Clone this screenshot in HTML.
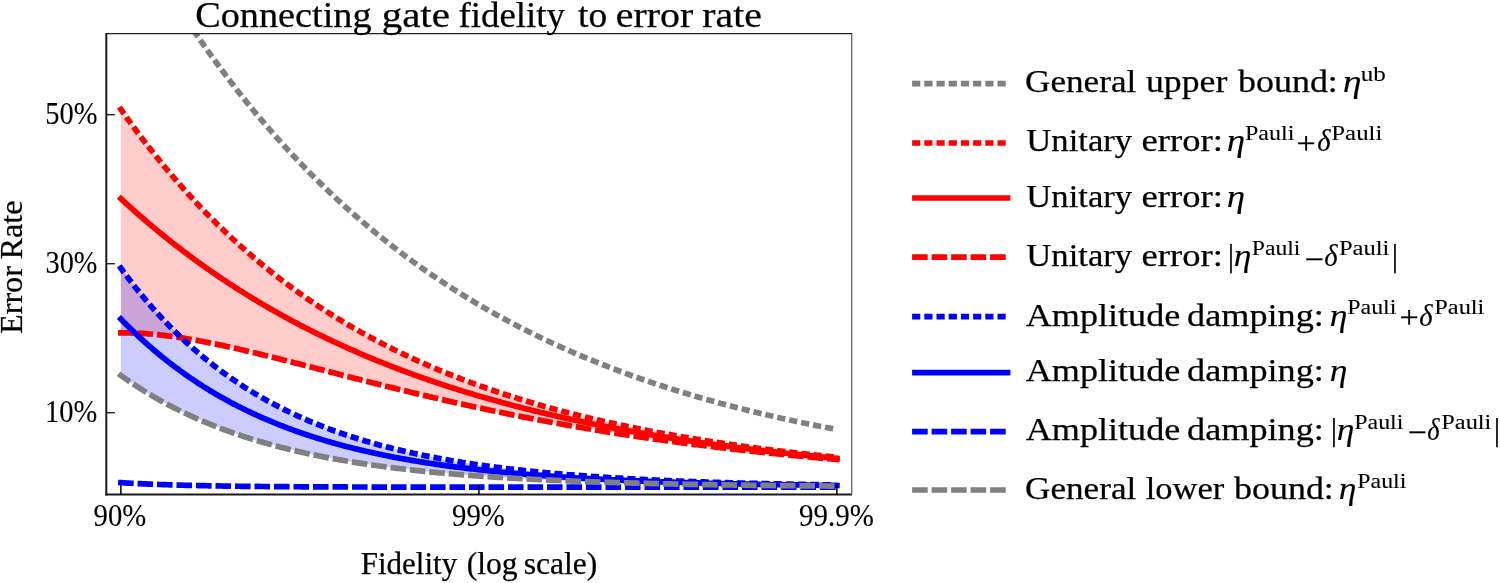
<!DOCTYPE html>
<html><head><meta charset="utf-8"><title>Connecting gate fidelity to error rate</title>
<style>html,body{margin:0;padding:0;background:#fff}svg{display:block}text{font-family:"Liberation Serif",serif;fill:#000;stroke:#000;stroke-width:0.25px}.l{stroke-width:0.1px}</style></head><body>
<svg width="1500" height="583" viewBox="0 0 1500 583">
<rect width="1500" height="583" fill="#fff"/>
<defs><clipPath id="ax"><rect x="106.3" y="33.5" width="745.7" height="460.9"/></clipPath></defs>
<g clip-path="url(#ax)" fill="none" stroke-linejoin="round">
<path d="M120.90,109.43 L122.69,111.98 L124.49,114.51 L126.28,117.02 L128.08,119.51 L129.87,121.99 L131.67,124.45 L133.46,126.89 L135.26,129.32 L137.05,131.73 L138.84,134.13 L140.64,136.50 L142.43,138.87 L144.23,141.21 L146.02,143.54 L147.82,145.86 L149.61,148.16 L151.41,150.44 L153.20,152.70 L155.00,154.96 L156.79,157.19 L158.58,159.41 L160.38,161.62 L162.17,163.81 L163.97,165.98 L165.76,168.14 L167.56,170.29 L169.35,172.42 L171.15,174.53 L172.94,176.63 L174.73,178.72 L176.53,180.79 L178.32,182.85 L180.12,184.89 L181.91,186.92 L183.71,188.94 L185.50,190.94 L187.30,192.93 L189.09,194.90 L190.88,196.86 L192.68,198.81 L194.47,200.74 L196.27,202.66 L198.06,204.56 L199.86,206.46 L201.65,208.34 L203.45,210.20 L205.24,212.06 L207.04,213.90 L208.83,215.72 L210.62,217.54 L212.42,219.34 L214.21,221.13 L216.01,222.91 L217.80,224.67 L219.60,226.42 L221.39,228.16 L223.19,229.89 L224.98,231.61 L226.77,233.31 L228.57,235.00 L230.36,236.69 L232.16,238.35 L233.95,240.01 L235.75,241.66 L237.54,243.29 L239.34,244.91 L241.13,246.52 L242.93,248.12 L244.72,249.71 L246.51,251.29 L248.31,252.86 L250.10,254.41 L251.90,255.96 L253.69,257.49 L255.49,259.01 L257.28,260.52 L259.08,262.03 L260.87,263.52 L262.66,265.00 L264.46,266.47 L266.25,267.93 L268.05,269.38 L269.84,270.82 L271.64,272.25 L273.43,273.67 L275.23,275.08 L277.02,276.48 L278.81,277.87 L280.61,279.25 L282.40,280.62 L284.20,281.98 L285.99,283.34 L287.79,284.68 L289.58,286.01 L291.38,287.34 L293.17,288.65 L294.97,289.96 L296.76,291.25 L298.55,292.54 L300.35,293.82 L302.14,295.09 L303.94,296.35 L305.73,297.60 L307.53,298.84 L309.32,300.08 L311.12,301.31 L312.91,302.52 L314.70,303.73 L316.50,304.93 L318.29,306.12 L320.09,307.31 L321.88,308.48 L323.68,309.65 L325.47,310.81 L327.27,311.96 L329.06,313.11 L330.85,314.24 L332.65,315.37 L334.44,316.49 L336.24,317.60 L338.03,318.71 L339.83,319.80 L341.62,320.89 L343.42,321.97 L345.21,323.05 L347.01,324.11 L348.80,325.17 L350.59,326.23 L352.39,327.27 L354.18,328.31 L355.98,329.34 L357.77,330.36 L359.57,331.38 L361.36,332.39 L363.16,333.39 L364.95,334.39 L366.74,335.37 L368.54,336.36 L370.33,337.33 L372.13,338.30 L373.92,339.26 L375.72,340.22 L377.51,341.16 L379.31,342.11 L381.10,343.04 L382.89,343.97 L384.69,344.89 L386.48,345.81 L388.28,346.72 L390.07,347.62 L391.87,348.52 L393.66,349.41 L395.46,350.30 L397.25,351.18 L399.05,352.05 L400.84,352.92 L402.63,353.78 L404.43,354.64 L406.22,355.49 L408.02,356.33 L409.81,357.17 L411.61,358.00 L413.40,358.83 L415.20,359.65 L416.99,360.47 L418.78,361.28 L420.58,362.08 L422.37,362.88 L424.17,363.67 L425.96,364.46 L427.76,365.24 L429.55,366.02 L431.35,366.79 L433.14,367.56 L434.94,368.32 L436.73,369.08 L438.52,369.83 L440.32,370.58 L442.11,371.32 L443.91,372.06 L445.70,372.79 L447.50,373.51 L449.29,374.24 L451.09,374.95 L452.88,375.67 L454.67,376.37 L456.47,377.08 L458.26,377.77 L460.06,378.47 L461.85,379.15 L463.65,379.84 L465.44,380.52 L467.24,381.19 L469.03,381.86 L470.82,382.53 L472.62,383.19 L474.41,383.85 L476.21,384.50 L478.00,385.15 L479.80,385.79 L481.59,386.43 L483.39,387.06 L485.18,387.69 L486.98,388.32 L488.77,388.94 L490.56,389.56 L492.36,390.18 L494.15,390.79 L495.95,391.39 L497.74,391.99 L499.54,392.59 L501.33,393.19 L503.13,393.78 L504.92,394.36 L506.71,394.94 L508.51,395.52 L510.30,396.10 L512.10,396.67 L513.89,397.23 L515.69,397.80 L517.48,398.36 L519.28,398.91 L521.07,399.46 L522.86,400.01 L524.66,400.56 L526.45,401.10 L528.25,401.64 L530.04,402.17 L531.84,402.70 L533.63,403.23 L535.43,403.75 L537.22,404.27 L539.02,404.79 L540.81,405.30 L542.60,405.81 L544.40,406.32 L546.19,406.82 L547.99,407.32 L549.78,407.82 L551.58,408.31 L553.37,408.80 L555.17,409.29 L556.96,409.77 L558.75,410.25 L560.55,410.73 L562.34,411.20 L564.14,411.68 L565.93,412.14 L567.73,412.61 L569.52,413.07 L571.32,413.53 L573.11,413.99 L574.91,414.44 L576.70,414.89 L578.49,415.34 L580.29,415.78 L582.08,416.22 L583.88,416.66 L585.67,417.10 L587.47,417.53 L589.26,417.96 L591.06,418.39 L592.85,418.81 L594.64,419.23 L596.44,419.65 L598.23,420.07 L600.03,420.48 L601.82,420.89 L603.62,421.30 L605.41,421.70 L607.21,422.11 L609.00,422.51 L610.79,422.91 L612.59,423.30 L614.38,423.69 L616.18,424.08 L617.97,424.47 L619.77,424.86 L621.56,425.24 L623.36,425.62 L625.15,426.00 L626.95,426.37 L628.74,426.74 L630.53,427.11 L632.33,427.48 L634.12,427.85 L635.92,428.21 L637.71,428.57 L639.51,428.93 L641.30,429.29 L643.10,429.64 L644.89,429.99 L646.68,430.34 L648.48,430.69 L650.27,431.04 L652.07,431.38 L653.86,431.72 L655.66,432.06 L657.45,432.39 L659.25,432.73 L661.04,433.06 L662.83,433.39 L664.63,433.72 L666.42,434.04 L668.22,434.37 L670.01,434.69 L671.81,435.01 L673.60,435.33 L675.40,435.64 L677.19,435.96 L678.99,436.27 L680.78,436.58 L682.57,436.88 L684.37,437.19 L686.16,437.49 L687.96,437.80 L689.75,438.10 L691.55,438.39 L693.34,438.69 L695.14,438.98 L696.93,439.28 L698.72,439.57 L700.52,439.86 L702.31,440.14 L704.11,440.43 L705.90,440.71 L707.70,440.99 L709.49,441.27 L711.29,441.55 L713.08,441.83 L714.87,442.10 L716.67,442.37 L718.46,442.64 L720.26,442.91 L722.05,443.18 L723.85,443.45 L725.64,443.71 L727.44,443.97 L729.23,444.24 L731.03,444.49 L732.82,444.75 L734.61,445.01 L736.41,445.26 L738.20,445.52 L740.00,445.77 L741.79,446.02 L743.59,446.26 L745.38,446.51 L747.18,446.76 L748.97,447.00 L750.76,447.24 L752.56,447.48 L754.35,447.72 L756.15,447.96 L757.94,448.20 L759.74,448.43 L761.53,448.66 L763.33,448.89 L765.12,449.12 L766.92,449.35 L768.71,449.58 L770.50,449.81 L772.30,450.03 L774.09,450.25 L775.89,450.48 L777.68,450.70 L779.48,450.92 L781.27,451.13 L783.07,451.35 L784.86,451.56 L786.65,451.78 L788.45,451.99 L790.24,452.20 L792.04,452.41 L793.83,452.62 L795.63,452.83 L797.42,453.03 L799.22,453.24 L801.01,453.44 L802.80,453.64 L804.60,453.84 L806.39,454.04 L808.19,454.24 L809.98,454.44 L811.78,454.63 L813.57,454.83 L815.37,455.02 L817.16,455.21 L818.96,455.40 L820.75,455.59 L822.54,455.78 L824.34,455.97 L826.13,456.16 L827.93,456.34 L829.72,456.53 L831.52,456.71 L833.31,456.89 L835.11,457.07 L836.90,457.25 L836.90,459.49 L835.11,459.33 L833.31,459.18 L831.52,459.02 L829.72,458.87 L827.93,458.71 L826.13,458.55 L824.34,458.39 L822.54,458.23 L820.75,458.07 L818.96,457.91 L817.16,457.75 L815.37,457.59 L813.57,457.42 L811.78,457.26 L809.98,457.09 L808.19,456.93 L806.39,456.76 L804.60,456.59 L802.80,456.42 L801.01,456.25 L799.22,456.08 L797.42,455.91 L795.63,455.74 L793.83,455.57 L792.04,455.39 L790.24,455.22 L788.45,455.04 L786.65,454.87 L784.86,454.69 L783.07,454.51 L781.27,454.33 L779.48,454.15 L777.68,453.97 L775.89,453.78 L774.09,453.60 L772.30,453.42 L770.50,453.23 L768.71,453.05 L766.92,452.86 L765.12,452.67 L763.33,452.48 L761.53,452.29 L759.74,452.10 L757.94,451.91 L756.15,451.72 L754.35,451.52 L752.56,451.33 L750.76,451.13 L748.97,450.93 L747.18,450.74 L745.38,450.54 L743.59,450.34 L741.79,450.14 L740.00,449.94 L738.20,449.73 L736.41,449.53 L734.61,449.32 L732.82,449.12 L731.03,448.91 L729.23,448.70 L727.44,448.49 L725.64,448.28 L723.85,448.07 L722.05,447.86 L720.26,447.65 L718.46,447.43 L716.67,447.22 L714.87,447.00 L713.08,446.78 L711.29,446.56 L709.49,446.34 L707.70,446.12 L705.90,445.90 L704.11,445.68 L702.31,445.45 L700.52,445.23 L698.72,445.00 L696.93,444.78 L695.14,444.55 L693.34,444.32 L691.55,444.09 L689.75,443.85 L687.96,443.62 L686.16,443.39 L684.37,443.15 L682.57,442.92 L680.78,442.68 L678.99,442.44 L677.19,442.20 L675.40,441.96 L673.60,441.72 L671.81,441.47 L670.01,441.23 L668.22,440.98 L666.42,440.73 L664.63,440.49 L662.83,440.24 L661.04,439.99 L659.25,439.74 L657.45,439.48 L655.66,439.23 L653.86,438.97 L652.07,438.72 L650.27,438.46 L648.48,438.20 L646.68,437.94 L644.89,437.68 L643.10,437.42 L641.30,437.15 L639.51,436.89 L637.71,436.62 L635.92,436.35 L634.12,436.08 L632.33,435.81 L630.53,435.54 L628.74,435.27 L626.95,435.00 L625.15,434.72 L623.36,434.44 L621.56,434.17 L619.77,433.89 L617.97,433.61 L616.18,433.33 L614.38,433.04 L612.59,432.76 L610.79,432.47 L609.00,432.19 L607.21,431.90 L605.41,431.61 L603.62,431.32 L601.82,431.03 L600.03,430.73 L598.23,430.44 L596.44,430.14 L594.64,429.85 L592.85,429.55 L591.06,429.25 L589.26,428.95 L587.47,428.65 L585.67,428.34 L583.88,428.04 L582.08,427.73 L580.29,427.42 L578.49,427.11 L576.70,426.80 L574.91,426.49 L573.11,426.18 L571.32,425.86 L569.52,425.55 L567.73,425.23 L565.93,424.91 L564.14,424.59 L562.34,424.27 L560.55,423.95 L558.75,423.63 L556.96,423.30 L555.17,422.97 L553.37,422.65 L551.58,422.32 L549.78,421.98 L547.99,421.65 L546.19,421.32 L544.40,420.98 L542.60,420.65 L540.81,420.31 L539.02,419.97 L537.22,419.63 L535.43,419.29 L533.63,418.95 L531.84,418.60 L530.04,418.26 L528.25,417.91 L526.45,417.56 L524.66,417.21 L522.86,416.86 L521.07,416.51 L519.28,416.15 L517.48,415.80 L515.69,415.44 L513.89,415.08 L512.10,414.72 L510.30,414.36 L508.51,414.00 L506.71,413.63 L504.92,413.27 L503.13,412.90 L501.33,412.53 L499.54,412.16 L497.74,411.79 L495.95,411.42 L494.15,411.05 L492.36,410.67 L490.56,410.30 L488.77,409.92 L486.98,409.54 L485.18,409.16 L483.39,408.78 L481.59,408.40 L479.80,408.01 L478.00,407.63 L476.21,407.24 L474.41,406.85 L472.62,406.46 L470.82,406.07 L469.03,405.68 L467.24,405.28 L465.44,404.89 L463.65,404.49 L461.85,404.09 L460.06,403.70 L458.26,403.30 L456.47,402.89 L454.67,402.49 L452.88,402.09 L451.09,401.68 L449.29,401.28 L447.50,400.87 L445.70,400.46 L443.91,400.05 L442.11,399.64 L440.32,399.22 L438.52,398.81 L436.73,398.39 L434.94,397.98 L433.14,397.56 L431.35,397.14 L429.55,396.72 L427.76,396.30 L425.96,395.88 L424.17,395.45 L422.37,395.03 L420.58,394.60 L418.78,394.18 L416.99,393.75 L415.20,393.32 L413.40,392.89 L411.61,392.46 L409.81,392.02 L408.02,391.59 L406.22,391.16 L404.43,390.72 L402.63,390.28 L400.84,389.84 L399.05,389.41 L397.25,388.97 L395.46,388.53 L393.66,388.08 L391.87,387.64 L390.07,387.20 L388.28,386.75 L386.48,386.31 L384.69,385.86 L382.89,385.41 L381.10,384.97 L379.31,384.52 L377.51,384.07 L375.72,383.62 L373.92,383.17 L372.13,382.71 L370.33,382.26 L368.54,381.81 L366.74,381.35 L364.95,380.90 L363.16,380.44 L361.36,379.99 L359.57,379.53 L357.77,379.07 L355.98,378.62 L354.18,378.16 L352.39,377.70 L350.59,377.24 L348.80,376.78 L347.01,376.32 L345.21,375.86 L343.42,375.40 L341.62,374.93 L339.83,374.47 L338.03,374.01 L336.24,373.55 L334.44,373.09 L332.65,372.62 L330.85,372.16 L329.06,371.70 L327.27,371.23 L325.47,370.77 L323.68,370.31 L321.88,369.84 L320.09,369.38 L318.29,368.92 L316.50,368.45 L314.70,367.99 L312.91,367.53 L311.12,367.06 L309.32,366.60 L307.53,366.14 L305.73,365.68 L303.94,365.21 L302.14,364.75 L300.35,364.29 L298.55,363.83 L296.76,363.37 L294.97,362.91 L293.17,362.45 L291.38,362.00 L289.58,361.54 L287.79,361.08 L285.99,360.63 L284.20,360.17 L282.40,359.72 L280.61,359.26 L278.81,358.81 L277.02,358.36 L275.23,357.91 L273.43,357.46 L271.64,357.02 L269.84,356.57 L268.05,356.13 L266.25,355.68 L264.46,355.24 L262.66,354.80 L260.87,354.36 L259.08,353.93 L257.28,353.49 L255.49,353.06 L253.69,352.63 L251.90,352.20 L250.10,351.77 L248.31,351.34 L246.51,350.92 L244.72,350.50 L242.93,350.08 L241.13,349.67 L239.34,349.25 L237.54,348.84 L235.75,348.43 L233.95,348.03 L232.16,347.62 L230.36,347.22 L228.57,346.83 L226.77,346.43 L224.98,346.04 L223.19,345.65 L221.39,345.27 L219.60,344.89 L217.80,344.51 L216.01,344.14 L214.21,343.77 L212.42,343.40 L210.62,343.04 L208.83,342.68 L207.04,342.33 L205.24,341.98 L203.45,341.63 L201.65,341.29 L199.86,340.96 L198.06,340.63 L196.27,340.30 L194.47,339.98 L192.68,339.66 L190.88,339.35 L189.09,339.05 L187.30,338.75 L185.50,338.45 L183.71,338.16 L181.91,337.88 L180.12,337.60 L178.32,337.33 L176.53,337.07 L174.73,336.81 L172.94,336.56 L171.15,336.31 L169.35,336.08 L167.56,335.85 L165.76,335.62 L163.97,335.41 L162.17,335.20 L160.38,335.00 L158.58,334.81 L156.79,334.62 L155.00,334.45 L153.20,334.28 L151.41,334.12 L149.61,333.97 L147.82,333.83 L146.02,333.70 L144.23,333.57 L142.43,333.46 L140.64,333.36 L138.84,333.26 L137.05,333.18 L135.26,333.11 L133.46,333.05 L131.67,333.00 L129.87,332.96 L128.08,332.93 L126.28,332.91 L124.49,332.91 L122.69,332.91 L120.90,332.93Z" fill="#ff0000" fill-opacity="0.2" stroke="none"/>
<path d="M120.90,268.24 L122.69,270.69 L124.49,273.12 L126.28,275.53 L128.08,277.91 L129.87,280.26 L131.67,282.58 L133.46,284.88 L135.26,287.16 L137.05,289.41 L138.84,291.63 L140.64,293.83 L142.43,296.01 L144.23,298.16 L146.02,300.29 L147.82,302.40 L149.61,304.48 L151.41,306.54 L153.20,308.58 L155.00,310.59 L156.79,312.58 L158.58,314.55 L160.38,316.50 L162.17,318.43 L163.97,320.33 L165.76,322.22 L167.56,324.08 L169.35,325.92 L171.15,327.74 L172.94,329.54 L174.73,331.33 L176.53,333.09 L178.32,334.83 L180.12,336.55 L181.91,338.26 L183.71,339.94 L185.50,341.61 L187.30,343.26 L189.09,344.89 L190.88,346.50 L192.68,348.09 L194.47,349.67 L196.27,351.23 L198.06,352.77 L199.86,354.29 L201.65,355.80 L203.45,357.28 L205.24,358.76 L207.04,360.21 L208.83,361.65 L210.62,363.08 L212.42,364.49 L214.21,365.88 L216.01,367.25 L217.80,368.62 L219.60,369.96 L221.39,371.29 L223.19,372.61 L224.98,373.91 L226.77,375.20 L228.57,376.47 L230.36,377.73 L232.16,378.97 L233.95,380.20 L235.75,381.42 L237.54,382.62 L239.34,383.81 L241.13,384.98 L242.93,386.14 L244.72,387.29 L246.51,388.43 L248.31,389.55 L250.10,390.66 L251.90,391.76 L253.69,392.85 L255.49,393.92 L257.28,394.98 L259.08,396.03 L260.87,397.07 L262.66,398.10 L264.46,399.11 L266.25,400.11 L268.05,401.10 L269.84,402.08 L271.64,403.05 L273.43,404.01 L275.23,404.96 L277.02,405.90 L278.81,406.82 L280.61,407.74 L282.40,408.64 L284.20,409.54 L285.99,410.42 L287.79,411.30 L289.58,412.16 L291.38,413.02 L293.17,413.87 L294.97,414.70 L296.76,415.53 L298.55,416.35 L300.35,417.15 L302.14,417.95 L303.94,418.74 L305.73,419.52 L307.53,420.30 L309.32,421.06 L311.12,421.81 L312.91,422.56 L314.70,423.30 L316.50,424.03 L318.29,424.75 L320.09,425.46 L321.88,426.16 L323.68,426.86 L325.47,427.55 L327.27,428.23 L329.06,428.90 L330.85,429.57 L332.65,430.23 L334.44,430.88 L336.24,431.52 L338.03,432.16 L339.83,432.79 L341.62,433.41 L343.42,434.02 L345.21,434.63 L347.01,435.23 L348.80,435.82 L350.59,436.41 L352.39,436.99 L354.18,437.56 L355.98,438.13 L357.77,438.69 L359.57,439.25 L361.36,439.79 L363.16,440.34 L364.95,440.87 L366.74,441.40 L368.54,441.92 L370.33,442.44 L372.13,442.95 L373.92,443.46 L375.72,443.96 L377.51,444.45 L379.31,444.94 L381.10,445.43 L382.89,445.90 L384.69,446.38 L386.48,446.84 L388.28,447.30 L390.07,447.76 L391.87,448.21 L393.66,448.66 L395.46,449.10 L397.25,449.53 L399.05,449.96 L400.84,450.39 L402.63,450.81 L404.43,451.23 L406.22,451.64 L408.02,452.05 L409.81,452.45 L411.61,452.85 L413.40,453.24 L415.20,453.63 L416.99,454.01 L418.78,454.39 L420.58,454.77 L422.37,455.14 L424.17,455.51 L425.96,455.87 L427.76,456.23 L429.55,456.58 L431.35,456.93 L433.14,457.28 L434.94,457.62 L436.73,457.96 L438.52,458.29 L440.32,458.62 L442.11,458.95 L443.91,459.28 L445.70,459.59 L447.50,459.91 L449.29,460.22 L451.09,460.53 L452.88,460.84 L454.67,461.14 L456.47,461.44 L458.26,461.73 L460.06,462.02 L461.85,462.31 L463.65,462.60 L465.44,462.88 L467.24,463.16 L469.03,463.43 L470.82,463.71 L472.62,463.97 L474.41,464.24 L476.21,464.50 L478.00,464.76 L479.80,465.02 L481.59,465.27 L483.39,465.53 L485.18,465.77 L486.98,466.02 L488.77,466.26 L490.56,466.50 L492.36,466.74 L494.15,466.97 L495.95,467.20 L497.74,467.43 L499.54,467.66 L501.33,467.88 L503.13,468.11 L504.92,468.32 L506.71,468.54 L508.51,468.75 L510.30,468.97 L512.10,469.17 L513.89,469.38 L515.69,469.59 L517.48,469.79 L519.28,469.99 L521.07,470.18 L522.86,470.38 L524.66,470.57 L526.45,470.76 L528.25,470.95 L530.04,471.14 L531.84,471.32 L533.63,471.50 L535.43,471.68 L537.22,471.86 L539.02,472.04 L540.81,472.21 L542.60,472.38 L544.40,472.55 L546.19,472.72 L547.99,472.89 L549.78,473.05 L551.58,473.21 L553.37,473.37 L555.17,473.53 L556.96,473.69 L558.75,473.84 L560.55,474.00 L562.34,474.15 L564.14,474.30 L565.93,474.44 L567.73,474.59 L569.52,474.74 L571.32,474.88 L573.11,475.02 L574.91,475.16 L576.70,475.30 L578.49,475.43 L580.29,475.57 L582.08,475.70 L583.88,475.83 L585.67,475.96 L587.47,476.09 L589.26,476.22 L591.06,476.35 L592.85,476.47 L594.64,476.59 L596.44,476.71 L598.23,476.84 L600.03,476.95 L601.82,477.07 L603.62,477.19 L605.41,477.30 L607.21,477.42 L609.00,477.53 L610.79,477.64 L612.59,477.75 L614.38,477.86 L616.18,477.96 L617.97,478.07 L619.77,478.17 L621.56,478.28 L623.36,478.38 L625.15,478.48 L626.95,478.58 L628.74,478.68 L630.53,478.78 L632.33,478.87 L634.12,478.97 L635.92,479.06 L637.71,479.16 L639.51,479.25 L641.30,479.34 L643.10,479.43 L644.89,479.52 L646.68,479.61 L648.48,479.70 L650.27,479.78 L652.07,479.87 L653.86,479.95 L655.66,480.03 L657.45,480.12 L659.25,480.20 L661.04,480.28 L662.83,480.36 L664.63,480.44 L666.42,480.51 L668.22,480.59 L670.01,480.67 L671.81,480.74 L673.60,480.81 L675.40,480.89 L677.19,480.96 L678.99,481.03 L680.78,481.10 L682.57,481.17 L684.37,481.24 L686.16,481.31 L687.96,481.38 L689.75,481.44 L691.55,481.51 L693.34,481.58 L695.14,481.64 L696.93,481.70 L698.72,481.77 L700.52,481.83 L702.31,481.89 L704.11,481.95 L705.90,482.01 L707.70,482.07 L709.49,482.13 L711.29,482.19 L713.08,482.25 L714.87,482.30 L716.67,482.36 L718.46,482.41 L720.26,482.47 L722.05,482.52 L723.85,482.58 L725.64,482.63 L727.44,482.68 L729.23,482.73 L731.03,482.79 L732.82,482.84 L734.61,482.89 L736.41,482.94 L738.20,482.98 L740.00,483.03 L741.79,483.08 L743.59,483.13 L745.38,483.17 L747.18,483.22 L748.97,483.27 L750.76,483.31 L752.56,483.36 L754.35,483.40 L756.15,483.44 L757.94,483.49 L759.74,483.53 L761.53,483.57 L763.33,483.61 L765.12,483.65 L766.92,483.70 L768.71,483.74 L770.50,483.78 L772.30,483.81 L774.09,483.85 L775.89,483.89 L777.68,483.93 L779.48,483.97 L781.27,484.00 L783.07,484.04 L784.86,484.08 L786.65,484.11 L788.45,484.15 L790.24,484.18 L792.04,484.22 L793.83,484.25 L795.63,484.29 L797.42,484.32 L799.22,484.35 L801.01,484.39 L802.80,484.42 L804.60,484.45 L806.39,484.48 L808.19,484.51 L809.98,484.54 L811.78,484.57 L813.57,484.60 L815.37,484.63 L817.16,484.66 L818.96,484.69 L820.75,484.72 L822.54,484.75 L824.34,484.78 L826.13,484.81 L827.93,484.83 L829.72,484.86 L831.52,484.89 L833.31,484.91 L835.11,484.94 L836.90,484.97 L836.90,486.08 L835.11,486.07 L833.31,486.06 L831.52,486.04 L829.72,486.03 L827.93,486.02 L826.13,486.00 L824.34,485.99 L822.54,485.97 L820.75,485.96 L818.96,485.95 L817.16,485.93 L815.37,485.92 L813.57,485.90 L811.78,485.89 L809.98,485.87 L808.19,485.86 L806.39,485.84 L804.60,485.82 L802.80,485.81 L801.01,485.79 L799.22,485.78 L797.42,485.76 L795.63,485.74 L793.83,485.73 L792.04,485.71 L790.24,485.69 L788.45,485.67 L786.65,485.66 L784.86,485.64 L783.07,485.62 L781.27,485.60 L779.48,485.58 L777.68,485.56 L775.89,485.55 L774.09,485.53 L772.30,485.51 L770.50,485.49 L768.71,485.47 L766.92,485.45 L765.12,485.43 L763.33,485.41 L761.53,485.39 L759.74,485.36 L757.94,485.34 L756.15,485.32 L754.35,485.30 L752.56,485.28 L750.76,485.26 L748.97,485.23 L747.18,485.21 L745.38,485.19 L743.59,485.16 L741.79,485.14 L740.00,485.12 L738.20,485.09 L736.41,485.07 L734.61,485.04 L732.82,485.02 L731.03,484.99 L729.23,484.97 L727.44,484.94 L725.64,484.91 L723.85,484.89 L722.05,484.86 L720.26,484.83 L718.46,484.81 L716.67,484.78 L714.87,484.75 L713.08,484.72 L711.29,484.69 L709.49,484.66 L707.70,484.63 L705.90,484.60 L704.11,484.57 L702.31,484.54 L700.52,484.51 L698.72,484.48 L696.93,484.45 L695.14,484.42 L693.34,484.39 L691.55,484.35 L689.75,484.32 L687.96,484.29 L686.16,484.25 L684.37,484.22 L682.57,484.18 L680.78,484.15 L678.99,484.11 L677.19,484.08 L675.40,484.04 L673.60,484.01 L671.81,483.97 L670.01,483.93 L668.22,483.89 L666.42,483.85 L664.63,483.82 L662.83,483.78 L661.04,483.74 L659.25,483.70 L657.45,483.66 L655.66,483.61 L653.86,483.57 L652.07,483.53 L650.27,483.49 L648.48,483.45 L646.68,483.40 L644.89,483.36 L643.10,483.31 L641.30,483.27 L639.51,483.22 L637.71,483.18 L635.92,483.13 L634.12,483.08 L632.33,483.03 L630.53,482.99 L628.74,482.94 L626.95,482.89 L625.15,482.84 L623.36,482.79 L621.56,482.74 L619.77,482.68 L617.97,482.63 L616.18,482.58 L614.38,482.52 L612.59,482.47 L610.79,482.42 L609.00,482.36 L607.21,482.30 L605.41,482.25 L603.62,482.19 L601.82,482.13 L600.03,482.07 L598.23,482.01 L596.44,481.95 L594.64,481.89 L592.85,481.83 L591.06,481.77 L589.26,481.70 L587.47,481.64 L585.67,481.58 L583.88,481.51 L582.08,481.45 L580.29,481.38 L578.49,481.31 L576.70,481.24 L574.91,481.17 L573.11,481.10 L571.32,481.03 L569.52,480.96 L567.73,480.89 L565.93,480.82 L564.14,480.74 L562.34,480.67 L560.55,480.59 L558.75,480.51 L556.96,480.44 L555.17,480.36 L553.37,480.28 L551.58,480.20 L549.78,480.12 L547.99,480.03 L546.19,479.95 L544.40,479.87 L542.60,479.78 L540.81,479.70 L539.02,479.61 L537.22,479.52 L535.43,479.43 L533.63,479.34 L531.84,479.25 L530.04,479.16 L528.25,479.06 L526.45,478.97 L524.66,478.87 L522.86,478.78 L521.07,478.68 L519.28,478.58 L517.48,478.48 L515.69,478.38 L513.89,478.28 L512.10,478.17 L510.30,478.07 L508.51,477.96 L506.71,477.86 L504.92,477.75 L503.13,477.64 L501.33,477.53 L499.54,477.41 L497.74,477.30 L495.95,477.19 L494.15,477.07 L492.36,476.95 L490.56,476.83 L488.77,476.71 L486.98,476.59 L485.18,476.47 L483.39,476.34 L481.59,476.22 L479.80,476.09 L478.00,475.96 L476.21,475.83 L474.41,475.70 L472.62,475.56 L470.82,475.43 L469.03,475.29 L467.24,475.15 L465.44,475.01 L463.65,474.87 L461.85,474.73 L460.06,474.59 L458.26,474.44 L456.47,474.29 L454.67,474.14 L452.88,473.99 L451.09,473.84 L449.29,473.68 L447.50,473.52 L445.70,473.36 L443.91,473.20 L442.11,473.04 L440.32,472.88 L438.52,472.71 L436.73,472.54 L434.94,472.37 L433.14,472.20 L431.35,472.03 L429.55,471.85 L427.76,471.67 L425.96,471.49 L424.17,471.31 L422.37,471.13 L420.58,470.94 L418.78,470.75 L416.99,470.56 L415.20,470.37 L413.40,470.17 L411.61,469.97 L409.81,469.77 L408.02,469.57 L406.22,469.37 L404.43,469.16 L402.63,468.95 L400.84,468.74 L399.05,468.52 L397.25,468.31 L395.46,468.09 L393.66,467.87 L391.87,467.64 L390.07,467.41 L388.28,467.18 L386.48,466.95 L384.69,466.72 L382.89,466.48 L381.10,466.24 L379.31,465.99 L377.51,465.75 L375.72,465.50 L373.92,465.25 L372.13,464.99 L370.33,464.74 L368.54,464.47 L366.74,464.21 L364.95,463.94 L363.16,463.67 L361.36,463.40 L359.57,463.12 L357.77,462.84 L355.98,462.56 L354.18,462.28 L352.39,461.99 L350.59,461.69 L348.80,461.40 L347.01,461.10 L345.21,460.80 L343.42,460.49 L341.62,460.18 L339.83,459.87 L338.03,459.55 L336.24,459.23 L334.44,458.90 L332.65,458.57 L330.85,458.24 L329.06,457.90 L327.27,457.56 L325.47,457.22 L323.68,456.87 L321.88,456.52 L320.09,456.16 L318.29,455.80 L316.50,455.44 L314.70,455.07 L312.91,454.70 L311.12,454.32 L309.32,453.94 L307.53,453.55 L305.73,453.16 L303.94,452.77 L302.14,452.37 L300.35,451.96 L298.55,451.55 L296.76,451.14 L294.97,450.72 L293.17,450.30 L291.38,449.87 L289.58,449.44 L287.79,449.00 L285.99,448.55 L284.20,448.11 L282.40,447.65 L280.61,447.19 L278.81,446.73 L277.02,446.26 L275.23,445.78 L273.43,445.30 L271.64,444.82 L269.84,444.32 L268.05,443.83 L266.25,443.32 L264.46,442.81 L262.66,442.30 L260.87,441.78 L259.08,441.25 L257.28,440.72 L255.49,440.18 L253.69,439.63 L251.90,439.08 L250.10,438.52 L248.31,437.96 L246.51,437.38 L244.72,436.81 L242.93,436.22 L241.13,435.63 L239.34,435.03 L237.54,434.42 L235.75,433.81 L233.95,433.19 L232.16,432.57 L230.36,431.93 L228.57,431.29 L226.77,430.64 L224.98,429.98 L223.19,429.32 L221.39,428.65 L219.60,427.97 L217.80,427.28 L216.01,426.58 L214.21,425.88 L212.42,425.17 L210.62,424.45 L208.83,423.72 L207.04,422.98 L205.24,422.24 L203.45,421.48 L201.65,420.72 L199.86,419.95 L198.06,419.17 L196.27,418.38 L194.47,417.58 L192.68,416.77 L190.88,415.95 L189.09,415.13 L187.30,414.29 L185.50,413.44 L183.71,412.59 L181.91,411.72 L180.12,410.85 L178.32,409.96 L176.53,409.06 L174.73,408.16 L172.94,407.24 L171.15,406.31 L169.35,405.37 L167.56,404.42 L165.76,403.46 L163.97,402.49 L162.17,401.50 L160.38,400.51 L158.58,399.50 L156.79,398.49 L155.00,397.46 L153.20,396.41 L151.41,395.36 L149.61,394.29 L147.82,393.21 L146.02,392.12 L144.23,391.02 L142.43,389.90 L140.64,388.77 L138.84,387.63 L137.05,386.48 L135.26,385.31 L133.46,384.12 L131.67,382.93 L129.87,381.72 L128.08,380.49 L126.28,379.25 L124.49,378.00 L122.69,376.73 L120.90,375.45Z" fill="#0000ff" fill-opacity="0.2" stroke="none"/>
<path d="M120.90,-89.87 L122.69,-86.55 L124.49,-83.25 L126.28,-79.97 L128.08,-76.71 L129.87,-73.46 L131.67,-70.24 L133.46,-67.03 L135.26,-63.84 L137.05,-60.67 L138.84,-57.51 L140.64,-54.38 L142.43,-51.26 L144.23,-48.17 L146.02,-45.08 L147.82,-42.02 L149.61,-38.98 L151.41,-35.95 L153.20,-32.94 L155.00,-29.95 L156.79,-26.97 L158.58,-24.01 L160.38,-21.07 L162.17,-18.14 L163.97,-15.24 L165.76,-12.35 L167.56,-9.47 L169.35,-6.61 L171.15,-3.77 L172.94,-0.95 L174.73,1.86 L176.53,4.66 L178.32,7.43 L180.12,10.19 L181.91,12.94 L183.71,15.67 L185.50,18.38 L187.30,21.08 L189.09,23.76 L190.88,26.43 L192.68,29.08 L194.47,31.71 L196.27,34.34 L198.06,36.94 L199.86,39.53 L201.65,42.11 L203.45,44.67 L205.24,47.22 L207.04,49.75 L208.83,52.26 L210.62,54.77 L212.42,57.26 L214.21,59.73 L216.01,62.19 L217.80,64.63 L219.60,67.07 L221.39,69.48 L223.19,71.89 L224.98,74.28 L226.77,76.65 L228.57,79.02 L230.36,81.36 L232.16,83.70 L233.95,86.02 L235.75,88.33 L237.54,90.63 L239.34,92.91 L241.13,95.18 L242.93,97.43 L244.72,99.68 L246.51,101.91 L248.31,104.12 L250.10,106.33 L251.90,108.52 L253.69,110.70 L255.49,112.86 L257.28,115.02 L259.08,117.16 L260.87,119.29 L262.66,121.41 L264.46,123.51 L266.25,125.60 L268.05,127.68 L269.84,129.75 L271.64,131.81 L273.43,133.85 L275.23,135.89 L277.02,137.91 L278.81,139.92 L280.61,141.92 L282.40,143.90 L284.20,145.88 L285.99,147.84 L287.79,149.80 L289.58,151.74 L291.38,153.67 L293.17,155.59 L294.97,157.50 L296.76,159.39 L298.55,161.28 L300.35,163.15 L302.14,165.02 L303.94,166.87 L305.73,168.72 L307.53,170.55 L309.32,172.37 L311.12,174.18 L312.91,175.98 L314.70,177.78 L316.50,179.56 L318.29,181.33 L320.09,183.09 L321.88,184.84 L323.68,186.58 L325.47,188.31 L327.27,190.03 L329.06,191.74 L330.85,193.44 L332.65,195.13 L334.44,196.81 L336.24,198.48 L338.03,200.14 L339.83,201.79 L341.62,203.43 L343.42,205.07 L345.21,206.69 L347.01,208.30 L348.80,209.91 L350.59,211.50 L352.39,213.09 L354.18,214.67 L355.98,216.24 L357.77,217.80 L359.57,219.35 L361.36,220.89 L363.16,222.42 L364.95,223.94 L366.74,225.46 L368.54,226.96 L370.33,228.46 L372.13,229.95 L373.92,231.43 L375.72,232.90 L377.51,234.37 L379.31,235.82 L381.10,237.27 L382.89,238.71 L384.69,240.14 L386.48,241.56 L388.28,242.97 L390.07,244.38 L391.87,245.77 L393.66,247.16 L395.46,248.54 L397.25,249.92 L399.05,251.28 L400.84,252.64 L402.63,253.99 L404.43,255.33 L406.22,256.67 L408.02,257.99 L409.81,259.31 L411.61,260.62 L413.40,261.93 L415.20,263.22 L416.99,264.51 L418.78,265.79 L420.58,267.07 L422.37,268.33 L424.17,269.59 L425.96,270.85 L427.76,272.09 L429.55,273.33 L431.35,274.56 L433.14,275.78 L434.94,277.00 L436.73,278.21 L438.52,279.41 L440.32,280.61 L442.11,281.80 L443.91,282.98 L445.70,284.15 L447.50,285.32 L449.29,286.48 L451.09,287.64 L452.88,288.79 L454.67,289.93 L456.47,291.06 L458.26,292.19 L460.06,293.31 L461.85,294.43 L463.65,295.54 L465.44,296.64 L467.24,297.74 L469.03,298.83 L470.82,299.91 L472.62,300.99 L474.41,302.06 L476.21,303.13 L478.00,304.19 L479.80,305.24 L481.59,306.29 L483.39,307.33 L485.18,308.36 L486.98,309.39 L488.77,310.41 L490.56,311.43 L492.36,312.44 L494.15,313.45 L495.95,314.45 L497.74,315.44 L499.54,316.43 L501.33,317.41 L503.13,318.39 L504.92,319.36 L506.71,320.33 L508.51,321.29 L510.30,322.24 L512.10,323.19 L513.89,324.14 L515.69,325.07 L517.48,326.01 L519.28,326.93 L521.07,327.86 L522.86,328.77 L524.66,329.68 L526.45,330.59 L528.25,331.49 L530.04,332.39 L531.84,333.28 L533.63,334.16 L535.43,335.05 L537.22,335.92 L539.02,336.79 L540.81,337.66 L542.60,338.52 L544.40,339.37 L546.19,340.22 L547.99,341.07 L549.78,341.91 L551.58,342.75 L553.37,343.58 L555.17,344.40 L556.96,345.23 L558.75,346.04 L560.55,346.86 L562.34,347.66 L564.14,348.47 L565.93,349.26 L567.73,350.06 L569.52,350.85 L571.32,351.63 L573.11,352.41 L574.91,353.19 L576.70,353.96 L578.49,354.72 L580.29,355.49 L582.08,356.25 L583.88,357.00 L585.67,357.75 L587.47,358.49 L589.26,359.23 L591.06,359.97 L592.85,360.70 L594.64,361.43 L596.44,362.15 L598.23,362.87 L600.03,363.59 L601.82,364.30 L603.62,365.01 L605.41,365.71 L607.21,366.41 L609.00,367.10 L610.79,367.80 L612.59,368.48 L614.38,369.17 L616.18,369.84 L617.97,370.52 L619.77,371.19 L621.56,371.86 L623.36,372.52 L625.15,373.18 L626.95,373.84 L628.74,374.49 L630.53,375.14 L632.33,375.78 L634.12,376.43 L635.92,377.06 L637.71,377.70 L639.51,378.33 L641.30,378.95 L643.10,379.58 L644.89,380.20 L646.68,380.81 L648.48,381.42 L650.27,382.03 L652.07,382.64 L653.86,383.24 L655.66,383.84 L657.45,384.43 L659.25,385.02 L661.04,385.61 L662.83,386.20 L664.63,386.78 L666.42,387.35 L668.22,387.93 L670.01,388.50 L671.81,389.07 L673.60,389.63 L675.40,390.19 L677.19,390.75 L678.99,391.31 L680.78,391.86 L682.57,392.41 L684.37,392.95 L686.16,393.50 L687.96,394.04 L689.75,394.57 L691.55,395.10 L693.34,395.63 L695.14,396.16 L696.93,396.68 L698.72,397.21 L700.52,397.72 L702.31,398.24 L704.11,398.75 L705.90,399.26 L707.70,399.77 L709.49,400.27 L711.29,400.77 L713.08,401.27 L714.87,401.76 L716.67,402.25 L718.46,402.74 L720.26,403.23 L722.05,403.71 L723.85,404.19 L725.64,404.67 L727.44,405.14 L729.23,405.62 L731.03,406.08 L732.82,406.55 L734.61,407.02 L736.41,407.48 L738.20,407.94 L740.00,408.39 L741.79,408.85 L743.59,409.30 L745.38,409.74 L747.18,410.19 L748.97,410.63 L750.76,411.07 L752.56,411.51 L754.35,411.95 L756.15,412.38 L757.94,412.81 L759.74,413.24 L761.53,413.66 L763.33,414.09 L765.12,414.51 L766.92,414.93 L768.71,415.34 L770.50,415.76 L772.30,416.17 L774.09,416.58 L775.89,416.98 L777.68,417.39 L779.48,417.79 L781.27,418.19 L783.07,418.58 L784.86,418.98 L786.65,419.37 L788.45,419.76 L790.24,420.15 L792.04,420.54 L793.83,420.92 L795.63,421.30 L797.42,421.68 L799.22,422.06 L801.01,422.43 L802.80,422.81 L804.60,423.18 L806.39,423.54 L808.19,423.91 L809.98,424.27 L811.78,424.64 L813.57,425.00 L815.37,425.35 L817.16,425.71 L818.96,426.06 L820.75,426.42 L822.54,426.77 L824.34,427.11 L826.13,427.46 L827.93,427.80 L829.72,428.14 L831.52,428.48 L833.31,428.82 L835.11,429.16 L836.90,429.49" stroke="#808080" stroke-width="5.7" stroke-dasharray="2.5 9.7" stroke-linecap="square" stroke-dashoffset="3.4"/>
<path d="M120.90,109.43 L122.69,111.98 L124.49,114.51 L126.28,117.02 L128.08,119.51 L129.87,121.99 L131.67,124.45 L133.46,126.89 L135.26,129.32 L137.05,131.73 L138.84,134.13 L140.64,136.50 L142.43,138.87 L144.23,141.21 L146.02,143.54 L147.82,145.86 L149.61,148.16 L151.41,150.44 L153.20,152.70 L155.00,154.96 L156.79,157.19 L158.58,159.41 L160.38,161.62 L162.17,163.81 L163.97,165.98 L165.76,168.14 L167.56,170.29 L169.35,172.42 L171.15,174.53 L172.94,176.63 L174.73,178.72 L176.53,180.79 L178.32,182.85 L180.12,184.89 L181.91,186.92 L183.71,188.94 L185.50,190.94 L187.30,192.93 L189.09,194.90 L190.88,196.86 L192.68,198.81 L194.47,200.74 L196.27,202.66 L198.06,204.56 L199.86,206.46 L201.65,208.34 L203.45,210.20 L205.24,212.06 L207.04,213.90 L208.83,215.72 L210.62,217.54 L212.42,219.34 L214.21,221.13 L216.01,222.91 L217.80,224.67 L219.60,226.42 L221.39,228.16 L223.19,229.89 L224.98,231.61 L226.77,233.31 L228.57,235.00 L230.36,236.69 L232.16,238.35 L233.95,240.01 L235.75,241.66 L237.54,243.29 L239.34,244.91 L241.13,246.52 L242.93,248.12 L244.72,249.71 L246.51,251.29 L248.31,252.86 L250.10,254.41 L251.90,255.96 L253.69,257.49 L255.49,259.01 L257.28,260.52 L259.08,262.03 L260.87,263.52 L262.66,265.00 L264.46,266.47 L266.25,267.93 L268.05,269.38 L269.84,270.82 L271.64,272.25 L273.43,273.67 L275.23,275.08 L277.02,276.48 L278.81,277.87 L280.61,279.25 L282.40,280.62 L284.20,281.98 L285.99,283.34 L287.79,284.68 L289.58,286.01 L291.38,287.34 L293.17,288.65 L294.97,289.96 L296.76,291.25 L298.55,292.54 L300.35,293.82 L302.14,295.09 L303.94,296.35 L305.73,297.60 L307.53,298.84 L309.32,300.08 L311.12,301.31 L312.91,302.52 L314.70,303.73 L316.50,304.93 L318.29,306.12 L320.09,307.31 L321.88,308.48 L323.68,309.65 L325.47,310.81 L327.27,311.96 L329.06,313.11 L330.85,314.24 L332.65,315.37 L334.44,316.49 L336.24,317.60 L338.03,318.71 L339.83,319.80 L341.62,320.89 L343.42,321.97 L345.21,323.05 L347.01,324.11 L348.80,325.17 L350.59,326.23 L352.39,327.27 L354.18,328.31 L355.98,329.34 L357.77,330.36 L359.57,331.38 L361.36,332.39 L363.16,333.39 L364.95,334.39 L366.74,335.37 L368.54,336.36 L370.33,337.33 L372.13,338.30 L373.92,339.26 L375.72,340.22 L377.51,341.16 L379.31,342.11 L381.10,343.04 L382.89,343.97 L384.69,344.89 L386.48,345.81 L388.28,346.72 L390.07,347.62 L391.87,348.52 L393.66,349.41 L395.46,350.30 L397.25,351.18 L399.05,352.05 L400.84,352.92 L402.63,353.78 L404.43,354.64 L406.22,355.49 L408.02,356.33 L409.81,357.17 L411.61,358.00 L413.40,358.83 L415.20,359.65 L416.99,360.47 L418.78,361.28 L420.58,362.08 L422.37,362.88 L424.17,363.67 L425.96,364.46 L427.76,365.24 L429.55,366.02 L431.35,366.79 L433.14,367.56 L434.94,368.32 L436.73,369.08 L438.52,369.83 L440.32,370.58 L442.11,371.32 L443.91,372.06 L445.70,372.79 L447.50,373.51 L449.29,374.24 L451.09,374.95 L452.88,375.67 L454.67,376.37 L456.47,377.08 L458.26,377.77 L460.06,378.47 L461.85,379.15 L463.65,379.84 L465.44,380.52 L467.24,381.19 L469.03,381.86 L470.82,382.53 L472.62,383.19 L474.41,383.85 L476.21,384.50 L478.00,385.15 L479.80,385.79 L481.59,386.43 L483.39,387.06 L485.18,387.69 L486.98,388.32 L488.77,388.94 L490.56,389.56 L492.36,390.18 L494.15,390.79 L495.95,391.39 L497.74,391.99 L499.54,392.59 L501.33,393.19 L503.13,393.78 L504.92,394.36 L506.71,394.94 L508.51,395.52 L510.30,396.10 L512.10,396.67 L513.89,397.23 L515.69,397.80 L517.48,398.36 L519.28,398.91 L521.07,399.46 L522.86,400.01 L524.66,400.56 L526.45,401.10 L528.25,401.64 L530.04,402.17 L531.84,402.70 L533.63,403.23 L535.43,403.75 L537.22,404.27 L539.02,404.79 L540.81,405.30 L542.60,405.81 L544.40,406.32 L546.19,406.82 L547.99,407.32 L549.78,407.82 L551.58,408.31 L553.37,408.80 L555.17,409.29 L556.96,409.77 L558.75,410.25 L560.55,410.73 L562.34,411.20 L564.14,411.68 L565.93,412.14 L567.73,412.61 L569.52,413.07 L571.32,413.53 L573.11,413.99 L574.91,414.44 L576.70,414.89 L578.49,415.34 L580.29,415.78 L582.08,416.22 L583.88,416.66 L585.67,417.10 L587.47,417.53 L589.26,417.96 L591.06,418.39 L592.85,418.81 L594.64,419.23 L596.44,419.65 L598.23,420.07 L600.03,420.48 L601.82,420.89 L603.62,421.30 L605.41,421.70 L607.21,422.11 L609.00,422.51 L610.79,422.91 L612.59,423.30 L614.38,423.69 L616.18,424.08 L617.97,424.47 L619.77,424.86 L621.56,425.24 L623.36,425.62 L625.15,426.00 L626.95,426.37 L628.74,426.74 L630.53,427.11 L632.33,427.48 L634.12,427.85 L635.92,428.21 L637.71,428.57 L639.51,428.93 L641.30,429.29 L643.10,429.64 L644.89,429.99 L646.68,430.34 L648.48,430.69 L650.27,431.04 L652.07,431.38 L653.86,431.72 L655.66,432.06 L657.45,432.39 L659.25,432.73 L661.04,433.06 L662.83,433.39 L664.63,433.72 L666.42,434.04 L668.22,434.37 L670.01,434.69 L671.81,435.01 L673.60,435.33 L675.40,435.64 L677.19,435.96 L678.99,436.27 L680.78,436.58 L682.57,436.88 L684.37,437.19 L686.16,437.49 L687.96,437.80 L689.75,438.10 L691.55,438.39 L693.34,438.69 L695.14,438.98 L696.93,439.28 L698.72,439.57 L700.52,439.86 L702.31,440.14 L704.11,440.43 L705.90,440.71 L707.70,440.99 L709.49,441.27 L711.29,441.55 L713.08,441.83 L714.87,442.10 L716.67,442.37 L718.46,442.64 L720.26,442.91 L722.05,443.18 L723.85,443.45 L725.64,443.71 L727.44,443.97 L729.23,444.24 L731.03,444.49 L732.82,444.75 L734.61,445.01 L736.41,445.26 L738.20,445.52 L740.00,445.77 L741.79,446.02 L743.59,446.26 L745.38,446.51 L747.18,446.76 L748.97,447.00 L750.76,447.24 L752.56,447.48 L754.35,447.72 L756.15,447.96 L757.94,448.20 L759.74,448.43 L761.53,448.66 L763.33,448.89 L765.12,449.12 L766.92,449.35 L768.71,449.58 L770.50,449.81 L772.30,450.03 L774.09,450.25 L775.89,450.48 L777.68,450.70 L779.48,450.92 L781.27,451.13 L783.07,451.35 L784.86,451.56 L786.65,451.78 L788.45,451.99 L790.24,452.20 L792.04,452.41 L793.83,452.62 L795.63,452.83 L797.42,453.03 L799.22,453.24 L801.01,453.44 L802.80,453.64 L804.60,453.84 L806.39,454.04 L808.19,454.24 L809.98,454.44 L811.78,454.63 L813.57,454.83 L815.37,455.02 L817.16,455.21 L818.96,455.40 L820.75,455.59 L822.54,455.78 L824.34,455.97 L826.13,456.16 L827.93,456.34 L829.72,456.53 L831.52,456.71 L833.31,456.89 L835.11,457.07 L836.90,457.25" stroke="#ff0000" stroke-width="5.7" stroke-dasharray="2.5 9.7" stroke-linecap="square"/>
<path d="M120.90,198.66 L122.69,200.32 L124.49,201.97 L126.28,203.62 L128.08,205.25 L129.87,206.87 L131.67,208.48 L133.46,210.09 L135.26,211.68 L137.05,213.27 L138.84,214.84 L140.64,216.41 L142.43,217.97 L144.23,219.52 L146.02,221.06 L147.82,222.59 L149.61,224.11 L151.41,225.63 L153.20,227.13 L155.00,228.63 L156.79,230.12 L158.58,231.59 L160.38,233.07 L162.17,234.53 L163.97,235.98 L165.76,237.43 L167.56,238.86 L169.35,240.29 L171.15,241.71 L172.94,243.13 L174.73,244.53 L176.53,245.93 L178.32,247.32 L180.12,248.70 L181.91,250.07 L183.71,251.43 L185.50,252.79 L187.30,254.14 L189.09,255.48 L190.88,256.81 L192.68,258.14 L194.47,259.46 L196.27,260.77 L198.06,262.07 L199.86,263.37 L201.65,264.65 L203.45,265.93 L205.24,267.21 L207.04,268.47 L208.83,269.73 L210.62,270.98 L212.42,272.23 L214.21,273.46 L216.01,274.69 L217.80,275.92 L219.60,277.13 L221.39,278.34 L223.19,279.54 L224.98,280.74 L226.77,281.93 L228.57,283.11 L230.36,284.28 L232.16,285.45 L233.95,286.61 L235.75,287.77 L237.54,288.91 L239.34,290.05 L241.13,291.19 L242.93,292.32 L244.72,293.44 L246.51,294.55 L248.31,295.66 L250.10,296.76 L251.90,297.86 L253.69,298.95 L255.49,300.03 L257.28,301.11 L259.08,302.18 L260.87,303.24 L262.66,304.30 L264.46,305.36 L266.25,306.40 L268.05,307.44 L269.84,308.48 L271.64,309.50 L273.43,310.53 L275.23,311.54 L277.02,312.55 L278.81,313.56 L280.61,314.56 L282.40,315.55 L284.20,316.54 L285.99,317.52 L287.79,318.50 L289.58,319.47 L291.38,320.43 L293.17,321.39 L294.97,322.35 L296.76,323.30 L298.55,324.24 L300.35,325.18 L302.14,326.11 L303.94,327.04 L305.73,327.96 L307.53,328.87 L309.32,329.79 L311.12,330.69 L312.91,331.59 L314.70,332.49 L316.50,333.38 L318.29,334.26 L320.09,335.14 L321.88,336.02 L323.68,336.89 L325.47,337.75 L327.27,338.61 L329.06,339.47 L330.85,340.32 L332.65,341.16 L334.44,342.00 L336.24,342.84 L338.03,343.67 L339.83,344.50 L341.62,345.32 L343.42,346.13 L345.21,346.94 L347.01,347.75 L348.80,348.55 L350.59,349.35 L352.39,350.15 L354.18,350.93 L355.98,351.72 L357.77,352.50 L359.57,353.27 L361.36,354.04 L363.16,354.81 L364.95,355.57 L366.74,356.33 L368.54,357.08 L370.33,357.83 L372.13,358.58 L373.92,359.32 L375.72,360.05 L377.51,360.78 L379.31,361.51 L381.10,362.23 L382.89,362.95 L384.69,363.67 L386.48,364.38 L388.28,365.09 L390.07,365.79 L391.87,366.49 L393.66,367.18 L395.46,367.87 L397.25,368.56 L399.05,369.24 L400.84,369.92 L402.63,370.59 L404.43,371.27 L406.22,371.93 L408.02,372.60 L409.81,373.26 L411.61,373.91 L413.40,374.56 L415.20,375.21 L416.99,375.86 L418.78,376.50 L420.58,377.13 L422.37,377.77 L424.17,378.40 L425.96,379.02 L427.76,379.65 L429.55,380.26 L431.35,380.88 L433.14,381.49 L434.94,382.10 L436.73,382.70 L438.52,383.31 L440.32,383.90 L442.11,384.50 L443.91,385.09 L445.70,385.68 L447.50,386.26 L449.29,386.84 L451.09,387.42 L452.88,387.99 L454.67,388.56 L456.47,389.13 L458.26,389.70 L460.06,390.26 L461.85,390.81 L463.65,391.37 L465.44,391.92 L467.24,392.47 L469.03,393.01 L470.82,393.56 L472.62,394.09 L474.41,394.63 L476.21,395.16 L478.00,395.69 L479.80,396.22 L481.59,396.74 L483.39,397.26 L485.18,397.78 L486.98,398.30 L488.77,398.81 L490.56,399.32 L492.36,399.82 L494.15,400.32 L495.95,400.82 L497.74,401.32 L499.54,401.82 L501.33,402.31 L503.13,402.80 L504.92,403.28 L506.71,403.76 L508.51,404.24 L510.30,404.72 L512.10,405.20 L513.89,405.67 L515.69,406.14 L517.48,406.60 L519.28,407.07 L521.07,407.53 L522.86,407.99 L524.66,408.44 L526.45,408.90 L528.25,409.35 L530.04,409.79 L531.84,410.24 L533.63,410.68 L535.43,411.12 L537.22,411.56 L539.02,412.00 L540.81,412.43 L542.60,412.86 L544.40,413.29 L546.19,413.71 L547.99,414.13 L549.78,414.56 L551.58,414.97 L553.37,415.39 L555.17,415.80 L556.96,416.21 L558.75,416.62 L560.55,417.03 L562.34,417.43 L564.14,417.83 L565.93,418.23 L567.73,418.63 L569.52,419.02 L571.32,419.42 L573.11,419.81 L574.91,420.19 L576.70,420.58 L578.49,420.96 L580.29,421.34 L582.08,421.72 L583.88,422.10 L585.67,422.47 L587.47,422.85 L589.26,423.22 L591.06,423.58 L592.85,423.95 L594.64,424.31 L596.44,424.68 L598.23,425.04 L600.03,425.39 L601.82,425.75 L603.62,426.10 L605.41,426.46 L607.21,426.80 L609.00,427.15 L610.79,427.50 L612.59,427.84 L614.38,428.18 L616.18,428.52 L617.97,428.86 L619.77,429.20 L621.56,429.53 L623.36,429.86 L625.15,430.19 L626.95,430.52 L628.74,430.85 L630.53,431.17 L632.33,431.49 L634.12,431.81 L635.92,432.13 L637.71,432.45 L639.51,432.76 L641.30,433.08 L643.10,433.39 L644.89,433.70 L646.68,434.01 L648.48,434.31 L650.27,434.62 L652.07,434.92 L653.86,435.22 L655.66,435.52 L657.45,435.82 L659.25,436.11 L661.04,436.41 L662.83,436.70 L664.63,436.99 L666.42,437.28 L668.22,437.56 L670.01,437.85 L671.81,438.13 L673.60,438.42 L675.40,438.70 L677.19,438.98 L678.99,439.25 L680.78,439.53 L682.57,439.80 L684.37,440.08 L686.16,440.35 L687.96,440.62 L689.75,440.89 L691.55,441.15 L693.34,441.42 L695.14,441.68 L696.93,441.94 L698.72,442.20 L700.52,442.46 L702.31,442.72 L704.11,442.98 L705.90,443.23 L707.70,443.48 L709.49,443.73 L711.29,443.98 L713.08,444.23 L714.87,444.48 L716.67,444.73 L718.46,444.97 L720.26,445.21 L722.05,445.46 L723.85,445.70 L725.64,445.93 L727.44,446.17 L729.23,446.41 L731.03,446.64 L732.82,446.88 L734.61,447.11 L736.41,447.34 L738.20,447.57 L740.00,447.80 L741.79,448.02 L743.59,448.25 L745.38,448.47 L747.18,448.70 L748.97,448.92 L750.76,449.14 L752.56,449.36 L754.35,449.57 L756.15,449.79 L757.94,450.01 L759.74,450.22 L761.53,450.43 L763.33,450.64 L765.12,450.85 L766.92,451.06 L768.71,451.27 L770.50,451.48 L772.30,451.68 L774.09,451.89 L775.89,452.09 L777.68,452.29 L779.48,452.49 L781.27,452.69 L783.07,452.89 L784.86,453.09 L786.65,453.29 L788.45,453.48 L790.24,453.68 L792.04,453.87 L793.83,454.06 L795.63,454.25 L797.42,454.44 L799.22,454.63 L801.01,454.82 L802.80,455.00 L804.60,455.19 L806.39,455.37 L808.19,455.56 L809.98,455.74 L811.78,455.92 L813.57,456.10 L815.37,456.28 L817.16,456.46 L818.96,456.63 L820.75,456.81 L822.54,456.98 L824.34,457.16 L826.13,457.33 L827.93,457.50 L829.72,457.67 L831.52,457.84 L833.31,458.01 L835.11,458.18 L836.90,458.35" stroke="#ff0000" stroke-width="5.7" stroke-linecap="square"/>
<path d="M120.90,332.93 L122.69,332.91 L124.49,332.91 L126.28,332.91 L128.08,332.93 L129.87,332.96 L131.67,333.00 L133.46,333.05 L135.26,333.11 L137.05,333.18 L138.84,333.26 L140.64,333.36 L142.43,333.46 L144.23,333.57 L146.02,333.70 L147.82,333.83 L149.61,333.97 L151.41,334.12 L153.20,334.28 L155.00,334.45 L156.79,334.62 L158.58,334.81 L160.38,335.00 L162.17,335.20 L163.97,335.41 L165.76,335.62 L167.56,335.85 L169.35,336.08 L171.15,336.31 L172.94,336.56 L174.73,336.81 L176.53,337.07 L178.32,337.33 L180.12,337.60 L181.91,337.88 L183.71,338.16 L185.50,338.45 L187.30,338.75 L189.09,339.05 L190.88,339.35 L192.68,339.66 L194.47,339.98 L196.27,340.30 L198.06,340.63 L199.86,340.96 L201.65,341.29 L203.45,341.63 L205.24,341.98 L207.04,342.33 L208.83,342.68 L210.62,343.04 L212.42,343.40 L214.21,343.77 L216.01,344.14 L217.80,344.51 L219.60,344.89 L221.39,345.27 L223.19,345.65 L224.98,346.04 L226.77,346.43 L228.57,346.83 L230.36,347.22 L232.16,347.62 L233.95,348.03 L235.75,348.43 L237.54,348.84 L239.34,349.25 L241.13,349.67 L242.93,350.08 L244.72,350.50 L246.51,350.92 L248.31,351.34 L250.10,351.77 L251.90,352.20 L253.69,352.63 L255.49,353.06 L257.28,353.49 L259.08,353.93 L260.87,354.36 L262.66,354.80 L264.46,355.24 L266.25,355.68 L268.05,356.13 L269.84,356.57 L271.64,357.02 L273.43,357.46 L275.23,357.91 L277.02,358.36 L278.81,358.81 L280.61,359.26 L282.40,359.72 L284.20,360.17 L285.99,360.63 L287.79,361.08 L289.58,361.54 L291.38,362.00 L293.17,362.45 L294.97,362.91 L296.76,363.37 L298.55,363.83 L300.35,364.29 L302.14,364.75 L303.94,365.21 L305.73,365.68 L307.53,366.14 L309.32,366.60 L311.12,367.06 L312.91,367.53 L314.70,367.99 L316.50,368.45 L318.29,368.92 L320.09,369.38 L321.88,369.84 L323.68,370.31 L325.47,370.77 L327.27,371.23 L329.06,371.70 L330.85,372.16 L332.65,372.62 L334.44,373.09 L336.24,373.55 L338.03,374.01 L339.83,374.47 L341.62,374.93 L343.42,375.40 L345.21,375.86 L347.01,376.32 L348.80,376.78 L350.59,377.24 L352.39,377.70 L354.18,378.16 L355.98,378.62 L357.77,379.07 L359.57,379.53 L361.36,379.99 L363.16,380.44 L364.95,380.90 L366.74,381.35 L368.54,381.81 L370.33,382.26 L372.13,382.71 L373.92,383.17 L375.72,383.62 L377.51,384.07 L379.31,384.52 L381.10,384.97 L382.89,385.41 L384.69,385.86 L386.48,386.31 L388.28,386.75 L390.07,387.20 L391.87,387.64 L393.66,388.08 L395.46,388.53 L397.25,388.97 L399.05,389.41 L400.84,389.84 L402.63,390.28 L404.43,390.72 L406.22,391.16 L408.02,391.59 L409.81,392.02 L411.61,392.46 L413.40,392.89 L415.20,393.32 L416.99,393.75 L418.78,394.18 L420.58,394.60 L422.37,395.03 L424.17,395.45 L425.96,395.88 L427.76,396.30 L429.55,396.72 L431.35,397.14 L433.14,397.56 L434.94,397.98 L436.73,398.39 L438.52,398.81 L440.32,399.22 L442.11,399.64 L443.91,400.05 L445.70,400.46 L447.50,400.87 L449.29,401.28 L451.09,401.68 L452.88,402.09 L454.67,402.49 L456.47,402.89 L458.26,403.30 L460.06,403.70 L461.85,404.09 L463.65,404.49 L465.44,404.89 L467.24,405.28 L469.03,405.68 L470.82,406.07 L472.62,406.46 L474.41,406.85 L476.21,407.24 L478.00,407.63 L479.80,408.01 L481.59,408.40 L483.39,408.78 L485.18,409.16 L486.98,409.54 L488.77,409.92 L490.56,410.30 L492.36,410.67 L494.15,411.05 L495.95,411.42 L497.74,411.79 L499.54,412.16 L501.33,412.53 L503.13,412.90 L504.92,413.27 L506.71,413.63 L508.51,414.00 L510.30,414.36 L512.10,414.72 L513.89,415.08 L515.69,415.44 L517.48,415.80 L519.28,416.15 L521.07,416.51 L522.86,416.86 L524.66,417.21 L526.45,417.56 L528.25,417.91 L530.04,418.26 L531.84,418.60 L533.63,418.95 L535.43,419.29 L537.22,419.63 L539.02,419.97 L540.81,420.31 L542.60,420.65 L544.40,420.98 L546.19,421.32 L547.99,421.65 L549.78,421.98 L551.58,422.32 L553.37,422.65 L555.17,422.97 L556.96,423.30 L558.75,423.63 L560.55,423.95 L562.34,424.27 L564.14,424.59 L565.93,424.91 L567.73,425.23 L569.52,425.55 L571.32,425.86 L573.11,426.18 L574.91,426.49 L576.70,426.80 L578.49,427.11 L580.29,427.42 L582.08,427.73 L583.88,428.04 L585.67,428.34 L587.47,428.65 L589.26,428.95 L591.06,429.25 L592.85,429.55 L594.64,429.85 L596.44,430.14 L598.23,430.44 L600.03,430.73 L601.82,431.03 L603.62,431.32 L605.41,431.61 L607.21,431.90 L609.00,432.19 L610.79,432.47 L612.59,432.76 L614.38,433.04 L616.18,433.33 L617.97,433.61 L619.77,433.89 L621.56,434.17 L623.36,434.44 L625.15,434.72 L626.95,435.00 L628.74,435.27 L630.53,435.54 L632.33,435.81 L634.12,436.08 L635.92,436.35 L637.71,436.62 L639.51,436.89 L641.30,437.15 L643.10,437.42 L644.89,437.68 L646.68,437.94 L648.48,438.20 L650.27,438.46 L652.07,438.72 L653.86,438.97 L655.66,439.23 L657.45,439.48 L659.25,439.74 L661.04,439.99 L662.83,440.24 L664.63,440.49 L666.42,440.73 L668.22,440.98 L670.01,441.23 L671.81,441.47 L673.60,441.72 L675.40,441.96 L677.19,442.20 L678.99,442.44 L680.78,442.68 L682.57,442.92 L684.37,443.15 L686.16,443.39 L687.96,443.62 L689.75,443.85 L691.55,444.09 L693.34,444.32 L695.14,444.55 L696.93,444.78 L698.72,445.00 L700.52,445.23 L702.31,445.45 L704.11,445.68 L705.90,445.90 L707.70,446.12 L709.49,446.34 L711.29,446.56 L713.08,446.78 L714.87,447.00 L716.67,447.22 L718.46,447.43 L720.26,447.65 L722.05,447.86 L723.85,448.07 L725.64,448.28 L727.44,448.49 L729.23,448.70 L731.03,448.91 L732.82,449.12 L734.61,449.32 L736.41,449.53 L738.20,449.73 L740.00,449.94 L741.79,450.14 L743.59,450.34 L745.38,450.54 L747.18,450.74 L748.97,450.93 L750.76,451.13 L752.56,451.33 L754.35,451.52 L756.15,451.72 L757.94,451.91 L759.74,452.10 L761.53,452.29 L763.33,452.48 L765.12,452.67 L766.92,452.86 L768.71,453.05 L770.50,453.23 L772.30,453.42 L774.09,453.60 L775.89,453.78 L777.68,453.97 L779.48,454.15 L781.27,454.33 L783.07,454.51 L784.86,454.69 L786.65,454.87 L788.45,455.04 L790.24,455.22 L792.04,455.39 L793.83,455.57 L795.63,455.74 L797.42,455.91 L799.22,456.08 L801.01,456.25 L802.80,456.42 L804.60,456.59 L806.39,456.76 L808.19,456.93 L809.98,457.09 L811.78,457.26 L813.57,457.42 L815.37,457.59 L817.16,457.75 L818.96,457.91 L820.75,458.07 L822.54,458.23 L824.34,458.39 L826.13,458.55 L827.93,458.71 L829.72,458.87 L831.52,459.02 L833.31,459.18 L835.11,459.33 L836.90,459.49" stroke="#ff0000" stroke-width="5.7" stroke-dasharray="9.9 9.6" stroke-linecap="square"/>
<path d="M120.90,268.24 L122.69,270.69 L124.49,273.12 L126.28,275.53 L128.08,277.91 L129.87,280.26 L131.67,282.58 L133.46,284.88 L135.26,287.16 L137.05,289.41 L138.84,291.63 L140.64,293.83 L142.43,296.01 L144.23,298.16 L146.02,300.29 L147.82,302.40 L149.61,304.48 L151.41,306.54 L153.20,308.58 L155.00,310.59 L156.79,312.58 L158.58,314.55 L160.38,316.50 L162.17,318.43 L163.97,320.33 L165.76,322.22 L167.56,324.08 L169.35,325.92 L171.15,327.74 L172.94,329.54 L174.73,331.33 L176.53,333.09 L178.32,334.83 L180.12,336.55 L181.91,338.26 L183.71,339.94 L185.50,341.61 L187.30,343.26 L189.09,344.89 L190.88,346.50 L192.68,348.09 L194.47,349.67 L196.27,351.23 L198.06,352.77 L199.86,354.29 L201.65,355.80 L203.45,357.28 L205.24,358.76 L207.04,360.21 L208.83,361.65 L210.62,363.08 L212.42,364.49 L214.21,365.88 L216.01,367.25 L217.80,368.62 L219.60,369.96 L221.39,371.29 L223.19,372.61 L224.98,373.91 L226.77,375.20 L228.57,376.47 L230.36,377.73 L232.16,378.97 L233.95,380.20 L235.75,381.42 L237.54,382.62 L239.34,383.81 L241.13,384.98 L242.93,386.14 L244.72,387.29 L246.51,388.43 L248.31,389.55 L250.10,390.66 L251.90,391.76 L253.69,392.85 L255.49,393.92 L257.28,394.98 L259.08,396.03 L260.87,397.07 L262.66,398.10 L264.46,399.11 L266.25,400.11 L268.05,401.10 L269.84,402.08 L271.64,403.05 L273.43,404.01 L275.23,404.96 L277.02,405.90 L278.81,406.82 L280.61,407.74 L282.40,408.64 L284.20,409.54 L285.99,410.42 L287.79,411.30 L289.58,412.16 L291.38,413.02 L293.17,413.87 L294.97,414.70 L296.76,415.53 L298.55,416.35 L300.35,417.15 L302.14,417.95 L303.94,418.74 L305.73,419.52 L307.53,420.30 L309.32,421.06 L311.12,421.81 L312.91,422.56 L314.70,423.30 L316.50,424.03 L318.29,424.75 L320.09,425.46 L321.88,426.16 L323.68,426.86 L325.47,427.55 L327.27,428.23 L329.06,428.90 L330.85,429.57 L332.65,430.23 L334.44,430.88 L336.24,431.52 L338.03,432.16 L339.83,432.79 L341.62,433.41 L343.42,434.02 L345.21,434.63 L347.01,435.23 L348.80,435.82 L350.59,436.41 L352.39,436.99 L354.18,437.56 L355.98,438.13 L357.77,438.69 L359.57,439.25 L361.36,439.79 L363.16,440.34 L364.95,440.87 L366.74,441.40 L368.54,441.92 L370.33,442.44 L372.13,442.95 L373.92,443.46 L375.72,443.96 L377.51,444.45 L379.31,444.94 L381.10,445.43 L382.89,445.90 L384.69,446.38 L386.48,446.84 L388.28,447.30 L390.07,447.76 L391.87,448.21 L393.66,448.66 L395.46,449.10 L397.25,449.53 L399.05,449.96 L400.84,450.39 L402.63,450.81 L404.43,451.23 L406.22,451.64 L408.02,452.05 L409.81,452.45 L411.61,452.85 L413.40,453.24 L415.20,453.63 L416.99,454.01 L418.78,454.39 L420.58,454.77 L422.37,455.14 L424.17,455.51 L425.96,455.87 L427.76,456.23 L429.55,456.58 L431.35,456.93 L433.14,457.28 L434.94,457.62 L436.73,457.96 L438.52,458.29 L440.32,458.62 L442.11,458.95 L443.91,459.28 L445.70,459.59 L447.50,459.91 L449.29,460.22 L451.09,460.53 L452.88,460.84 L454.67,461.14 L456.47,461.44 L458.26,461.73 L460.06,462.02 L461.85,462.31 L463.65,462.60 L465.44,462.88 L467.24,463.16 L469.03,463.43 L470.82,463.71 L472.62,463.97 L474.41,464.24 L476.21,464.50 L478.00,464.76 L479.80,465.02 L481.59,465.27 L483.39,465.53 L485.18,465.77 L486.98,466.02 L488.77,466.26 L490.56,466.50 L492.36,466.74 L494.15,466.97 L495.95,467.20 L497.74,467.43 L499.54,467.66 L501.33,467.88 L503.13,468.11 L504.92,468.32 L506.71,468.54 L508.51,468.75 L510.30,468.97 L512.10,469.17 L513.89,469.38 L515.69,469.59 L517.48,469.79 L519.28,469.99 L521.07,470.18 L522.86,470.38 L524.66,470.57 L526.45,470.76 L528.25,470.95 L530.04,471.14 L531.84,471.32 L533.63,471.50 L535.43,471.68 L537.22,471.86 L539.02,472.04 L540.81,472.21 L542.60,472.38 L544.40,472.55 L546.19,472.72 L547.99,472.89 L549.78,473.05 L551.58,473.21 L553.37,473.37 L555.17,473.53 L556.96,473.69 L558.75,473.84 L560.55,474.00 L562.34,474.15 L564.14,474.30 L565.93,474.44 L567.73,474.59 L569.52,474.74 L571.32,474.88 L573.11,475.02 L574.91,475.16 L576.70,475.30 L578.49,475.43 L580.29,475.57 L582.08,475.70 L583.88,475.83 L585.67,475.96 L587.47,476.09 L589.26,476.22 L591.06,476.35 L592.85,476.47 L594.64,476.59 L596.44,476.71 L598.23,476.84 L600.03,476.95 L601.82,477.07 L603.62,477.19 L605.41,477.30 L607.21,477.42 L609.00,477.53 L610.79,477.64 L612.59,477.75 L614.38,477.86 L616.18,477.96 L617.97,478.07 L619.77,478.17 L621.56,478.28 L623.36,478.38 L625.15,478.48 L626.95,478.58 L628.74,478.68 L630.53,478.78 L632.33,478.87 L634.12,478.97 L635.92,479.06 L637.71,479.16 L639.51,479.25 L641.30,479.34 L643.10,479.43 L644.89,479.52 L646.68,479.61 L648.48,479.70 L650.27,479.78 L652.07,479.87 L653.86,479.95 L655.66,480.03 L657.45,480.12 L659.25,480.20 L661.04,480.28 L662.83,480.36 L664.63,480.44 L666.42,480.51 L668.22,480.59 L670.01,480.67 L671.81,480.74 L673.60,480.81 L675.40,480.89 L677.19,480.96 L678.99,481.03 L680.78,481.10 L682.57,481.17 L684.37,481.24 L686.16,481.31 L687.96,481.38 L689.75,481.44 L691.55,481.51 L693.34,481.58 L695.14,481.64 L696.93,481.70 L698.72,481.77 L700.52,481.83 L702.31,481.89 L704.11,481.95 L705.90,482.01 L707.70,482.07 L709.49,482.13 L711.29,482.19 L713.08,482.25 L714.87,482.30 L716.67,482.36 L718.46,482.41 L720.26,482.47 L722.05,482.52 L723.85,482.58 L725.64,482.63 L727.44,482.68 L729.23,482.73 L731.03,482.79 L732.82,482.84 L734.61,482.89 L736.41,482.94 L738.20,482.98 L740.00,483.03 L741.79,483.08 L743.59,483.13 L745.38,483.17 L747.18,483.22 L748.97,483.27 L750.76,483.31 L752.56,483.36 L754.35,483.40 L756.15,483.44 L757.94,483.49 L759.74,483.53 L761.53,483.57 L763.33,483.61 L765.12,483.65 L766.92,483.70 L768.71,483.74 L770.50,483.78 L772.30,483.81 L774.09,483.85 L775.89,483.89 L777.68,483.93 L779.48,483.97 L781.27,484.00 L783.07,484.04 L784.86,484.08 L786.65,484.11 L788.45,484.15 L790.24,484.18 L792.04,484.22 L793.83,484.25 L795.63,484.29 L797.42,484.32 L799.22,484.35 L801.01,484.39 L802.80,484.42 L804.60,484.45 L806.39,484.48 L808.19,484.51 L809.98,484.54 L811.78,484.57 L813.57,484.60 L815.37,484.63 L817.16,484.66 L818.96,484.69 L820.75,484.72 L822.54,484.75 L824.34,484.78 L826.13,484.81 L827.93,484.83 L829.72,484.86 L831.52,484.89 L833.31,484.91 L835.11,484.94 L836.90,484.97" stroke="#0000ff" stroke-width="5.7" stroke-dasharray="2.5 9.7" stroke-linecap="square"/>
<path d="M120.90,319.09 L122.69,320.93 L124.49,322.76 L126.28,324.56 L128.08,326.34 L129.87,328.11 L131.67,329.86 L133.46,331.59 L135.26,333.30 L137.05,335.00 L138.84,336.67 L140.64,338.33 L142.43,339.97 L144.23,341.60 L146.02,343.21 L147.82,344.80 L149.61,346.37 L151.41,347.93 L153.20,349.47 L155.00,350.99 L156.79,352.50 L158.58,354.00 L160.38,355.47 L162.17,356.93 L163.97,358.38 L165.76,359.81 L167.56,361.22 L169.35,362.62 L171.15,364.01 L172.94,365.38 L174.73,366.73 L176.53,368.07 L178.32,369.40 L180.12,370.71 L181.91,372.01 L183.71,373.29 L185.50,374.56 L187.30,375.82 L189.09,377.06 L190.88,378.29 L192.68,379.51 L194.47,380.71 L196.27,381.90 L198.06,383.08 L199.86,384.24 L201.65,385.40 L203.45,386.54 L205.24,387.66 L207.04,388.78 L208.83,389.88 L210.62,390.97 L212.42,392.05 L214.21,393.12 L216.01,394.17 L217.80,395.21 L219.60,396.25 L221.39,397.27 L223.19,398.28 L224.98,399.28 L226.77,400.26 L228.57,401.24 L230.36,402.21 L232.16,403.16 L233.95,404.11 L235.75,405.04 L237.54,405.97 L239.34,406.88 L241.13,407.79 L242.93,408.68 L244.72,409.56 L246.51,410.44 L248.31,411.30 L250.10,412.16 L251.90,413.01 L253.69,413.84 L255.49,414.67 L257.28,415.49 L259.08,416.30 L260.87,417.10 L262.66,417.89 L264.46,418.67 L266.25,419.45 L268.05,420.21 L269.84,420.97 L271.64,421.72 L273.43,422.46 L275.23,423.19 L277.02,423.91 L278.81,424.63 L280.61,425.34 L282.40,426.03 L284.20,426.73 L285.99,427.41 L287.79,428.09 L289.58,428.76 L291.38,429.42 L293.17,430.07 L294.97,430.72 L296.76,431.36 L298.55,431.99 L300.35,432.62 L302.14,433.24 L303.94,433.85 L305.73,434.45 L307.53,435.05 L309.32,435.64 L311.12,436.23 L312.91,436.81 L314.70,437.38 L316.50,437.94 L318.29,438.50 L320.09,439.05 L321.88,439.60 L323.68,440.14 L325.47,440.68 L327.27,441.20 L329.06,441.73 L330.85,442.24 L332.65,442.75 L334.44,443.26 L336.24,443.76 L338.03,444.25 L339.83,444.74 L341.62,445.22 L343.42,445.70 L345.21,446.17 L347.01,446.64 L348.80,447.10 L350.59,447.55 L352.39,448.01 L354.18,448.45 L355.98,448.89 L357.77,449.33 L359.57,449.76 L361.36,450.19 L363.16,450.61 L364.95,451.02 L366.74,451.43 L368.54,451.84 L370.33,452.24 L372.13,452.64 L373.92,453.04 L375.72,453.43 L377.51,453.81 L379.31,454.19 L381.10,454.57 L382.89,454.94 L384.69,455.31 L386.48,455.67 L388.28,456.03 L390.07,456.38 L391.87,456.73 L393.66,457.08 L395.46,457.43 L397.25,457.76 L399.05,458.10 L400.84,458.43 L402.63,458.76 L404.43,459.08 L406.22,459.41 L408.02,459.72 L409.81,460.04 L411.61,460.35 L413.40,460.65 L415.20,460.95 L416.99,461.25 L418.78,461.55 L420.58,461.84 L422.37,462.13 L424.17,462.42 L425.96,462.70 L427.76,462.98 L429.55,463.26 L431.35,463.53 L433.14,463.80 L434.94,464.07 L436.73,464.33 L438.52,464.59 L440.32,464.85 L442.11,465.11 L443.91,465.36 L445.70,465.61 L447.50,465.85 L449.29,466.10 L451.09,466.34 L452.88,466.58 L454.67,466.81 L456.47,467.05 L458.26,467.28 L460.06,467.50 L461.85,467.73 L463.65,467.95 L465.44,468.17 L467.24,468.39 L469.03,468.60 L470.82,468.82 L472.62,469.03 L474.41,469.23 L476.21,469.44 L478.00,469.64 L479.80,469.84 L481.59,470.04 L483.39,470.24 L485.18,470.43 L486.98,470.62 L488.77,470.81 L490.56,471.00 L492.36,471.19 L494.15,471.37 L495.95,471.55 L497.74,471.73 L499.54,471.91 L501.33,472.08 L503.13,472.25 L504.92,472.43 L506.71,472.59 L508.51,472.76 L510.30,472.93 L512.10,473.09 L513.89,473.25 L515.69,473.41 L517.48,473.57 L519.28,473.72 L521.07,473.88 L522.86,474.03 L524.66,474.18 L526.45,474.33 L528.25,474.48 L530.04,474.62 L531.84,474.77 L533.63,474.91 L535.43,475.05 L537.22,475.19 L539.02,475.33 L540.81,475.46 L542.60,475.60 L544.40,475.73 L546.19,475.86 L547.99,475.99 L549.78,476.12 L551.58,476.25 L553.37,476.37 L555.17,476.50 L556.96,476.62 L558.75,476.74 L560.55,476.86 L562.34,476.98 L564.14,477.09 L565.93,477.21 L567.73,477.32 L569.52,477.44 L571.32,477.55 L573.11,477.66 L574.91,477.77 L576.70,477.88 L578.49,477.98 L580.29,478.09 L582.08,478.19 L583.88,478.30 L585.67,478.40 L587.47,478.50 L589.26,478.60 L591.06,478.70 L592.85,478.80 L594.64,478.89 L596.44,478.99 L598.23,479.08 L600.03,479.17 L601.82,479.27 L603.62,479.36 L605.41,479.45 L607.21,479.54 L609.00,479.62 L610.79,479.71 L612.59,479.80 L614.38,479.88 L616.18,479.96 L617.97,480.05 L619.77,480.13 L621.56,480.21 L623.36,480.29 L625.15,480.37 L626.95,480.45 L628.74,480.53 L630.53,480.60 L632.33,480.68 L634.12,480.75 L635.92,480.83 L637.71,480.90 L639.51,480.97 L641.30,481.04 L643.10,481.11 L644.89,481.18 L646.68,481.25 L648.48,481.32 L650.27,481.39 L652.07,481.45 L653.86,481.52 L655.66,481.59 L657.45,481.65 L659.25,481.71 L661.04,481.78 L662.83,481.84 L664.63,481.90 L666.42,481.96 L668.22,482.02 L670.01,482.08 L671.81,482.14 L673.60,482.20 L675.40,482.25 L677.19,482.31 L678.99,482.37 L680.78,482.42 L682.57,482.48 L684.37,482.53 L686.16,482.58 L687.96,482.64 L689.75,482.69 L691.55,482.74 L693.34,482.79 L695.14,482.84 L696.93,482.89 L698.72,482.94 L700.52,482.99 L702.31,483.04 L704.11,483.09 L705.90,483.13 L707.70,483.18 L709.49,483.23 L711.29,483.27 L713.08,483.32 L714.87,483.36 L716.67,483.41 L718.46,483.45 L720.26,483.49 L722.05,483.54 L723.85,483.58 L725.64,483.62 L727.44,483.66 L729.23,483.70 L731.03,483.74 L732.82,483.78 L734.61,483.82 L736.41,483.86 L738.20,483.90 L740.00,483.93 L741.79,483.97 L743.59,484.01 L745.38,484.05 L747.18,484.08 L748.97,484.12 L750.76,484.15 L752.56,484.19 L754.35,484.22 L756.15,484.26 L757.94,484.29 L759.74,484.32 L761.53,484.36 L763.33,484.39 L765.12,484.42 L766.92,484.45 L768.71,484.48 L770.50,484.52 L772.30,484.55 L774.09,484.58 L775.89,484.61 L777.68,484.64 L779.48,484.67 L781.27,484.70 L783.07,484.72 L784.86,484.75 L786.65,484.78 L788.45,484.81 L790.24,484.84 L792.04,484.86 L793.83,484.89 L795.63,484.92 L797.42,484.94 L799.22,484.97 L801.01,484.99 L802.80,485.02 L804.60,485.04 L806.39,485.07 L808.19,485.09 L809.98,485.12 L811.78,485.14 L813.57,485.16 L815.37,485.19 L817.16,485.21 L818.96,485.23 L820.75,485.26 L822.54,485.28 L824.34,485.30 L826.13,485.32 L827.93,485.34 L829.72,485.37 L831.52,485.39 L833.31,485.41 L835.11,485.43 L836.90,485.45" stroke="#0000ff" stroke-width="5.7" stroke-linecap="square"/>
<path d="M120.90,482.66 L122.69,482.77 L124.49,482.88 L126.28,482.98 L128.08,483.08 L129.87,483.18 L131.67,483.27 L133.46,483.36 L135.26,483.46 L137.05,483.54 L138.84,483.63 L140.64,483.71 L142.43,483.80 L144.23,483.88 L146.02,483.96 L147.82,484.03 L149.61,484.11 L151.41,484.18 L153.20,484.25 L155.00,484.32 L156.79,484.39 L158.58,484.46 L160.38,484.52 L162.17,484.58 L163.97,484.64 L165.76,484.70 L167.56,484.76 L169.35,484.82 L171.15,484.88 L172.94,484.93 L174.73,484.98 L176.53,485.04 L178.32,485.09 L180.12,485.14 L181.91,485.18 L183.71,485.23 L185.50,485.28 L187.30,485.32 L189.09,485.37 L190.88,485.41 L192.68,485.45 L194.47,485.49 L196.27,485.53 L198.06,485.57 L199.86,485.61 L201.65,485.65 L203.45,485.68 L205.24,485.72 L207.04,485.75 L208.83,485.79 L210.62,485.82 L212.42,485.85 L214.21,485.88 L216.01,485.91 L217.80,485.94 L219.60,485.97 L221.39,486.00 L223.19,486.03 L224.98,486.06 L226.77,486.08 L228.57,486.11 L230.36,486.14 L232.16,486.16 L233.95,486.18 L235.75,486.21 L237.54,486.23 L239.34,486.25 L241.13,486.28 L242.93,486.30 L244.72,486.32 L246.51,486.34 L248.31,486.36 L250.10,486.38 L251.90,486.40 L253.69,486.42 L255.49,486.43 L257.28,486.45 L259.08,486.47 L260.87,486.49 L262.66,486.50 L264.46,486.52 L266.25,486.53 L268.05,486.55 L269.84,486.56 L271.64,486.58 L273.43,486.59 L275.23,486.61 L277.02,486.62 L278.81,486.63 L280.61,486.65 L282.40,486.66 L284.20,486.67 L285.99,486.69 L287.79,486.70 L289.58,486.71 L291.38,486.72 L293.17,486.73 L294.97,486.74 L296.76,486.75 L298.55,486.76 L300.35,486.77 L302.14,486.78 L303.94,486.79 L305.73,486.80 L307.53,486.81 L309.32,486.82 L311.12,486.83 L312.91,486.84 L314.70,486.85 L316.50,486.85 L318.29,486.86 L320.09,486.87 L321.88,486.88 L323.68,486.88 L325.47,486.89 L327.27,486.90 L329.06,486.91 L330.85,486.91 L332.65,486.92 L334.44,486.93 L336.24,486.93 L338.03,486.94 L339.83,486.94 L341.62,486.95 L343.42,486.96 L345.21,486.96 L347.01,486.97 L348.80,486.97 L350.59,486.98 L352.39,486.98 L354.18,486.99 L355.98,486.99 L357.77,487.00 L359.57,487.00 L361.36,487.01 L363.16,487.01 L364.95,487.02 L366.74,487.02 L368.54,487.02 L370.33,487.03 L372.13,487.03 L373.92,487.04 L375.72,487.04 L377.51,487.04 L379.31,487.05 L381.10,487.05 L382.89,487.05 L384.69,487.06 L386.48,487.06 L388.28,487.06 L390.07,487.07 L391.87,487.07 L393.66,487.07 L395.46,487.08 L397.25,487.08 L399.05,487.08 L400.84,487.08 L402.63,487.09 L404.43,487.09 L406.22,487.09 L408.02,487.09 L409.81,487.10 L411.61,487.10 L413.40,487.10 L415.20,487.10 L416.99,487.11 L418.78,487.11 L420.58,487.11 L422.37,487.11 L424.17,487.11 L425.96,487.12 L427.76,487.12 L429.55,487.12 L431.35,487.12 L433.14,487.12 L434.94,487.13 L436.73,487.13 L438.52,487.13 L440.32,487.13 L442.11,487.13 L443.91,487.13 L445.70,487.14 L447.50,487.14 L449.29,487.14 L451.09,487.14 L452.88,487.14 L454.67,487.14 L456.47,487.14 L458.26,487.14 L460.06,487.15 L461.85,487.15 L463.65,487.15 L465.44,487.15 L467.24,487.15 L469.03,487.15 L470.82,487.15 L472.62,487.15 L474.41,487.16 L476.21,487.16 L478.00,487.16 L479.80,487.16 L481.59,487.16 L483.39,487.16 L485.18,487.16 L486.98,487.16 L488.77,487.16 L490.56,487.16 L492.36,487.16 L494.15,487.17 L495.95,487.17 L497.74,487.17 L499.54,487.17 L501.33,487.17 L503.13,487.17 L504.92,487.17 L506.71,487.17 L508.51,487.17 L510.30,487.17 L512.10,487.17 L513.89,487.17 L515.69,487.17 L517.48,487.17 L519.28,487.17 L521.07,487.18 L522.86,487.18 L524.66,487.18 L526.45,487.18 L528.25,487.18 L530.04,487.18 L531.84,487.18 L533.63,487.18 L535.43,487.18 L537.22,487.18 L539.02,487.18 L540.81,487.18 L542.60,487.18 L544.40,487.18 L546.19,487.18 L547.99,487.18 L549.78,487.18 L551.58,487.18 L553.37,487.18 L555.17,487.18 L556.96,487.18 L558.75,487.18 L560.55,487.19 L562.34,487.19 L564.14,487.19 L565.93,487.19 L567.73,487.19 L569.52,487.19 L571.32,487.19 L573.11,487.19 L574.91,487.19 L576.70,487.19 L578.49,487.19 L580.29,487.19 L582.08,487.19 L583.88,487.19 L585.67,487.19 L587.47,487.19 L589.26,487.19 L591.06,487.19 L592.85,487.19 L594.64,487.19 L596.44,487.19 L598.23,487.19 L600.03,487.19 L601.82,487.19 L603.62,487.19 L605.41,487.19 L607.21,487.19 L609.00,487.19 L610.79,487.19 L612.59,487.19 L614.38,487.19 L616.18,487.19 L617.97,487.19 L619.77,487.19 L621.56,487.19 L623.36,487.19 L625.15,487.19 L626.95,487.19 L628.74,487.19 L630.53,487.19 L632.33,487.19 L634.12,487.19 L635.92,487.19 L637.71,487.19 L639.51,487.19 L641.30,487.19 L643.10,487.19 L644.89,487.20 L646.68,487.20 L648.48,487.20 L650.27,487.20 L652.07,487.20 L653.86,487.20 L655.66,487.20 L657.45,487.20 L659.25,487.20 L661.04,487.20 L662.83,487.20 L664.63,487.20 L666.42,487.20 L668.22,487.20 L670.01,487.20 L671.81,487.20 L673.60,487.20 L675.40,487.20 L677.19,487.20 L678.99,487.20 L680.78,487.20 L682.57,487.20 L684.37,487.20 L686.16,487.20 L687.96,487.20 L689.75,487.20 L691.55,487.20 L693.34,487.20 L695.14,487.20 L696.93,487.20 L698.72,487.20 L700.52,487.20 L702.31,487.20 L704.11,487.20 L705.90,487.20 L707.70,487.20 L709.49,487.20 L711.29,487.20 L713.08,487.20 L714.87,487.20 L716.67,487.20 L718.46,487.20 L720.26,487.20 L722.05,487.20 L723.85,487.20 L725.64,487.20 L727.44,487.20 L729.23,487.20 L731.03,487.20 L732.82,487.20 L734.61,487.20 L736.41,487.20 L738.20,487.20 L740.00,487.20 L741.79,487.20 L743.59,487.20 L745.38,487.20 L747.18,487.20 L748.97,487.20 L750.76,487.20 L752.56,487.20 L754.35,487.20 L756.15,487.20 L757.94,487.20 L759.74,487.20 L761.53,487.20 L763.33,487.20 L765.12,487.20 L766.92,487.20 L768.71,487.20 L770.50,487.20 L772.30,487.20 L774.09,487.20 L775.89,487.20 L777.68,487.20 L779.48,487.20 L781.27,487.20 L783.07,487.20 L784.86,487.20 L786.65,487.20 L788.45,487.20 L790.24,487.20 L792.04,487.20 L793.83,487.20 L795.63,487.20 L797.42,487.20 L799.22,487.20 L801.01,487.20 L802.80,487.20 L804.60,487.20 L806.39,487.20 L808.19,487.20 L809.98,487.20 L811.78,487.20 L813.57,487.20 L815.37,487.20 L817.16,487.20 L818.96,487.20 L820.75,487.20 L822.54,487.20 L824.34,487.20 L826.13,487.20 L827.93,487.20 L829.72,487.20 L831.52,487.20 L833.31,487.20 L835.11,487.20 L836.90,487.20" stroke="#0000ff" stroke-width="5.7" stroke-dasharray="9.9 9.6" stroke-linecap="square"/>
<path d="M120.90,375.45 L122.69,376.73 L124.49,378.00 L126.28,379.25 L128.08,380.49 L129.87,381.72 L131.67,382.93 L133.46,384.12 L135.26,385.31 L137.05,386.48 L138.84,387.63 L140.64,388.77 L142.43,389.90 L144.23,391.02 L146.02,392.12 L147.82,393.21 L149.61,394.29 L151.41,395.36 L153.20,396.41 L155.00,397.46 L156.79,398.49 L158.58,399.50 L160.38,400.51 L162.17,401.50 L163.97,402.49 L165.76,403.46 L167.56,404.42 L169.35,405.37 L171.15,406.31 L172.94,407.24 L174.73,408.16 L176.53,409.06 L178.32,409.96 L180.12,410.85 L181.91,411.72 L183.71,412.59 L185.50,413.44 L187.30,414.29 L189.09,415.13 L190.88,415.95 L192.68,416.77 L194.47,417.58 L196.27,418.38 L198.06,419.17 L199.86,419.95 L201.65,420.72 L203.45,421.48 L205.24,422.24 L207.04,422.98 L208.83,423.72 L210.62,424.45 L212.42,425.17 L214.21,425.88 L216.01,426.58 L217.80,427.28 L219.60,427.97 L221.39,428.65 L223.19,429.32 L224.98,429.98 L226.77,430.64 L228.57,431.29 L230.36,431.93 L232.16,432.57 L233.95,433.19 L235.75,433.81 L237.54,434.42 L239.34,435.03 L241.13,435.63 L242.93,436.22 L244.72,436.81 L246.51,437.38 L248.31,437.96 L250.10,438.52 L251.90,439.08 L253.69,439.63 L255.49,440.18 L257.28,440.72 L259.08,441.25 L260.87,441.78 L262.66,442.30 L264.46,442.81 L266.25,443.32 L268.05,443.83 L269.84,444.32 L271.64,444.82 L273.43,445.30 L275.23,445.78 L277.02,446.26 L278.81,446.73 L280.61,447.19 L282.40,447.65 L284.20,448.11 L285.99,448.55 L287.79,449.00 L289.58,449.44 L291.38,449.87 L293.17,450.30 L294.97,450.72 L296.76,451.14 L298.55,451.55 L300.35,451.96 L302.14,452.37 L303.94,452.77 L305.73,453.16 L307.53,453.55 L309.32,453.94 L311.12,454.32 L312.91,454.70 L314.70,455.07 L316.50,455.44 L318.29,455.80 L320.09,456.16 L321.88,456.52 L323.68,456.87 L325.47,457.22 L327.27,457.56 L329.06,457.90 L330.85,458.24 L332.65,458.57 L334.44,458.90 L336.24,459.23 L338.03,459.55 L339.83,459.87 L341.62,460.18 L343.42,460.49 L345.21,460.80 L347.01,461.10 L348.80,461.40 L350.59,461.69 L352.39,461.99 L354.18,462.28 L355.98,462.56 L357.77,462.84 L359.57,463.12 L361.36,463.40 L363.16,463.67 L364.95,463.94 L366.74,464.21 L368.54,464.47 L370.33,464.74 L372.13,464.99 L373.92,465.25 L375.72,465.50 L377.51,465.75 L379.31,465.99 L381.10,466.24 L382.89,466.48 L384.69,466.72 L386.48,466.95 L388.28,467.18 L390.07,467.41 L391.87,467.64 L393.66,467.87 L395.46,468.09 L397.25,468.31 L399.05,468.52 L400.84,468.74 L402.63,468.95 L404.43,469.16 L406.22,469.37 L408.02,469.57 L409.81,469.77 L411.61,469.97 L413.40,470.17 L415.20,470.37 L416.99,470.56 L418.78,470.75 L420.58,470.94 L422.37,471.13 L424.17,471.31 L425.96,471.49 L427.76,471.67 L429.55,471.85 L431.35,472.03 L433.14,472.20 L434.94,472.37 L436.73,472.54 L438.52,472.71 L440.32,472.88 L442.11,473.04 L443.91,473.20 L445.70,473.36 L447.50,473.52 L449.29,473.68 L451.09,473.84 L452.88,473.99 L454.67,474.14 L456.47,474.29 L458.26,474.44 L460.06,474.59 L461.85,474.73 L463.65,474.87 L465.44,475.01 L467.24,475.15 L469.03,475.29 L470.82,475.43 L472.62,475.56 L474.41,475.70 L476.21,475.83 L478.00,475.96 L479.80,476.09 L481.59,476.22 L483.39,476.34 L485.18,476.47 L486.98,476.59 L488.77,476.71 L490.56,476.83 L492.36,476.95 L494.15,477.07 L495.95,477.19 L497.74,477.30 L499.54,477.41 L501.33,477.53 L503.13,477.64 L504.92,477.75 L506.71,477.86 L508.51,477.96 L510.30,478.07 L512.10,478.17 L513.89,478.28 L515.69,478.38 L517.48,478.48 L519.28,478.58 L521.07,478.68 L522.86,478.78 L524.66,478.87 L526.45,478.97 L528.25,479.06 L530.04,479.16 L531.84,479.25 L533.63,479.34 L535.43,479.43 L537.22,479.52 L539.02,479.61 L540.81,479.70 L542.60,479.78 L544.40,479.87 L546.19,479.95 L547.99,480.03 L549.78,480.12 L551.58,480.20 L553.37,480.28 L555.17,480.36 L556.96,480.44 L558.75,480.51 L560.55,480.59 L562.34,480.67 L564.14,480.74 L565.93,480.82 L567.73,480.89 L569.52,480.96 L571.32,481.03 L573.11,481.10 L574.91,481.17 L576.70,481.24 L578.49,481.31 L580.29,481.38 L582.08,481.45 L583.88,481.51 L585.67,481.58 L587.47,481.64 L589.26,481.70 L591.06,481.77 L592.85,481.83 L594.64,481.89 L596.44,481.95 L598.23,482.01 L600.03,482.07 L601.82,482.13 L603.62,482.19 L605.41,482.25 L607.21,482.30 L609.00,482.36 L610.79,482.42 L612.59,482.47 L614.38,482.52 L616.18,482.58 L617.97,482.63 L619.77,482.68 L621.56,482.74 L623.36,482.79 L625.15,482.84 L626.95,482.89 L628.74,482.94 L630.53,482.99 L632.33,483.03 L634.12,483.08 L635.92,483.13 L637.71,483.18 L639.51,483.22 L641.30,483.27 L643.10,483.31 L644.89,483.36 L646.68,483.40 L648.48,483.45 L650.27,483.49 L652.07,483.53 L653.86,483.57 L655.66,483.61 L657.45,483.66 L659.25,483.70 L661.04,483.74 L662.83,483.78 L664.63,483.82 L666.42,483.85 L668.22,483.89 L670.01,483.93 L671.81,483.97 L673.60,484.01 L675.40,484.04 L677.19,484.08 L678.99,484.11 L680.78,484.15 L682.57,484.18 L684.37,484.22 L686.16,484.25 L687.96,484.29 L689.75,484.32 L691.55,484.35 L693.34,484.39 L695.14,484.42 L696.93,484.45 L698.72,484.48 L700.52,484.51 L702.31,484.54 L704.11,484.57 L705.90,484.60 L707.70,484.63 L709.49,484.66 L711.29,484.69 L713.08,484.72 L714.87,484.75 L716.67,484.78 L718.46,484.81 L720.26,484.83 L722.05,484.86 L723.85,484.89 L725.64,484.91 L727.44,484.94 L729.23,484.97 L731.03,484.99 L732.82,485.02 L734.61,485.04 L736.41,485.07 L738.20,485.09 L740.00,485.12 L741.79,485.14 L743.59,485.16 L745.38,485.19 L747.18,485.21 L748.97,485.23 L750.76,485.26 L752.56,485.28 L754.35,485.30 L756.15,485.32 L757.94,485.34 L759.74,485.36 L761.53,485.39 L763.33,485.41 L765.12,485.43 L766.92,485.45 L768.71,485.47 L770.50,485.49 L772.30,485.51 L774.09,485.53 L775.89,485.55 L777.68,485.56 L779.48,485.58 L781.27,485.60 L783.07,485.62 L784.86,485.64 L786.65,485.66 L788.45,485.67 L790.24,485.69 L792.04,485.71 L793.83,485.73 L795.63,485.74 L797.42,485.76 L799.22,485.78 L801.01,485.79 L802.80,485.81 L804.60,485.82 L806.39,485.84 L808.19,485.86 L809.98,485.87 L811.78,485.89 L813.57,485.90 L815.37,485.92 L817.16,485.93 L818.96,485.95 L820.75,485.96 L822.54,485.97 L824.34,485.99 L826.13,486.00 L827.93,486.02 L829.72,486.03 L831.52,486.04 L833.31,486.06 L835.11,486.07 L836.90,486.08" stroke="#808080" stroke-width="5.7" stroke-dasharray="9.9 9.6" stroke-linecap="square" stroke-dashoffset="1.7"/>
</g>
<g stroke-linecap="butt">
<line x1="106.3" y1="32.9" x2="106.3" y2="495.4" stroke="#1a1a1a" stroke-width="2"/>
<line x1="105.3" y1="494.4" x2="851.9" y2="494.4" stroke="#1a1a1a" stroke-width="2"/>
<line x1="106.3" y1="33.5" x2="852.3" y2="33.5" stroke="#222" stroke-width="1.25"/>
<line x1="851.75" y1="33.5" x2="851.75" y2="494.4" stroke="#505050" stroke-width="1.15"/>
<line x1="106.3" y1="412.70" x2="114.89999999999999" y2="412.70" stroke="#222" stroke-width="1.4"/>
<line x1="106.3" y1="263.70" x2="114.89999999999999" y2="263.70" stroke="#222" stroke-width="1.4"/>
<line x1="106.3" y1="114.70" x2="114.89999999999999" y2="114.70" stroke="#222" stroke-width="1.4"/>
<line x1="120.90" y1="494.4" x2="120.90" y2="485.09999999999997" stroke="#000" stroke-width="1.5"/>
<line x1="478.90" y1="494.4" x2="478.90" y2="485.09999999999997" stroke="#000" stroke-width="1.5"/>
<line x1="836.90" y1="494.4" x2="836.90" y2="485.09999999999997" stroke="#000" stroke-width="1.5"/>
</g>
<line x1="914.95" y1="83.7" x2="1007.55" y2="83.7" stroke="#808080" stroke-width="5.7" stroke-linecap="square" stroke-dasharray="2.5 9.7"/>
<line x1="914.95" y1="143.0" x2="1007.55" y2="143.0" stroke="#ff0000" stroke-width="5.7" stroke-linecap="square" stroke-dasharray="2.5 9.7"/>
<line x1="914.95" y1="198.0" x2="1007.55" y2="198.0" stroke="#ff0000" stroke-width="5.7" stroke-linecap="square"/>
<line x1="914.95" y1="257.2" x2="1007.55" y2="257.2" stroke="#ff0000" stroke-width="5.7" stroke-linecap="square" stroke-dasharray="9.9 9.6"/>
<line x1="914.95" y1="316.6" x2="1007.55" y2="316.6" stroke="#0000ff" stroke-width="5.7" stroke-linecap="square" stroke-dasharray="2.5 9.7"/>
<line x1="914.95" y1="372.65" x2="1007.55" y2="372.65" stroke="#0000ff" stroke-width="5.7" stroke-linecap="square"/>
<line x1="914.95" y1="431.7" x2="1007.55" y2="431.7" stroke="#0000ff" stroke-width="5.7" stroke-linecap="square" stroke-dasharray="9.9 9.6"/>
<line x1="914.95" y1="490.0" x2="1007.55" y2="490.0" stroke="#808080" stroke-width="5.7" stroke-linecap="square" stroke-dasharray="9.9 9.6"/>
<text><tspan x="195.20" y="26.60" font-size="35" textLength="176.39" lengthAdjust="spacingAndGlyphs">Connecting</tspan> <tspan x="381.72" y="26.60" font-size="35" textLength="68.18" lengthAdjust="spacingAndGlyphs">gate</tspan> <tspan x="458.42" y="26.60" font-size="35" textLength="106.58" lengthAdjust="spacingAndGlyphs">fidelity</tspan> <tspan x="578.00" y="26.60" font-size="35" textLength="29.17" lengthAdjust="spacingAndGlyphs">to</tspan> <tspan x="615.75" y="26.60" font-size="35" textLength="77.44" lengthAdjust="spacingAndGlyphs">error</tspan> <tspan x="702.38" y="26.60" font-size="35" textLength="59.49" lengthAdjust="spacingAndGlyphs">rate</tspan></text>
<text><tspan x="360.75" y="574.00" font-size="32" textLength="96.37" lengthAdjust="spacingAndGlyphs">Fidelity</tspan> <tspan x="466.64" y="574.00" font-size="32" textLength="50.85" lengthAdjust="spacingAndGlyphs">(log</tspan> <tspan x="523.77" y="574.00" font-size="32" textLength="73.62" lengthAdjust="spacingAndGlyphs">scale)</tspan></text>
<text transform="translate(21.8,333.2) rotate(-90)"><tspan x="-0.88" y="0.00" font-size="32" textLength="68.07" lengthAdjust="spacingAndGlyphs">Error</tspan> <tspan x="73.72" y="0.00" font-size="32" textLength="58.96" lengthAdjust="spacingAndGlyphs">Rate</tspan></text>
<text><tspan x="45.17" y="124.00" font-size="30.5" textLength="52.20" lengthAdjust="spacingAndGlyphs" class="l">50%</tspan></text>
<text><tspan x="45.53" y="273.00" font-size="30.5" textLength="51.83" lengthAdjust="spacingAndGlyphs" class="l">30%</tspan></text>
<text><tspan x="45.04" y="422.00" font-size="30.5" textLength="52.32" lengthAdjust="spacingAndGlyphs" class="l">10%</tspan></text>
<text><tspan x="93.58" y="526.00" font-size="30.5" textLength="52.70" lengthAdjust="spacingAndGlyphs" class="l">90%</tspan></text>
<text><tspan x="452.08" y="526.00" font-size="30.5" textLength="52.70" lengthAdjust="spacingAndGlyphs" class="l">99%</tspan></text>
<text><tspan x="798.97" y="526.00" font-size="30.5" textLength="74.91" lengthAdjust="spacingAndGlyphs" class="l">99.9%</tspan></text>
<text><tspan x="1025.03" y="92.00" font-size="32" textLength="111.28" lengthAdjust="spacingAndGlyphs">General</tspan> <tspan x="1145.98" y="92.00" font-size="32" textLength="81.33" lengthAdjust="spacingAndGlyphs">upper</tspan> <tspan x="1238.00" y="92.00" font-size="32" textLength="99.83" lengthAdjust="spacingAndGlyphs">bound:</tspan> <tspan x="1342.67" y="92.00" font-size="32" textLength="18.81" lengthAdjust="spacingAndGlyphs" font-style="italic" class="l">η</tspan><tspan x="1360.71" y="80.80" font-size="22" textLength="25.14" lengthAdjust="spacingAndGlyphs" class="l">ub</tspan></text>
<text><tspan x="1026.32" y="151.30" font-size="32" textLength="105.81" lengthAdjust="spacingAndGlyphs">Unitary</tspan> <tspan x="1141.57" y="151.30" font-size="32" textLength="81.31" lengthAdjust="spacingAndGlyphs">error:</tspan> <tspan x="1226.70" y="151.30" font-size="32" textLength="18.34" lengthAdjust="spacingAndGlyphs" font-style="italic" class="l">η</tspan><tspan x="1244.92" y="140.10" font-size="22" textLength="49.48" lengthAdjust="spacingAndGlyphs" class="l">Pauli</tspan><tspan x="1296.40" y="154.12" font-size="32" textLength="19.25" lengthAdjust="spacingAndGlyphs">+</tspan><tspan x="1317.22" y="151.30" font-size="32" textLength="13.34" lengthAdjust="spacingAndGlyphs" font-style="italic" class="l">δ</tspan><tspan x="1331.29" y="140.10" font-size="22" textLength="51.12" lengthAdjust="spacingAndGlyphs" class="l">Pauli</tspan></text>
<text><tspan x="1026.32" y="207.10" font-size="32" textLength="105.81" lengthAdjust="spacingAndGlyphs">Unitary</tspan> <tspan x="1141.57" y="207.10" font-size="32" textLength="81.31" lengthAdjust="spacingAndGlyphs">error:</tspan> <tspan x="1226.70" y="207.10" font-size="32" textLength="18.34" lengthAdjust="spacingAndGlyphs" font-style="italic" class="l">η</tspan></text>
<text><tspan x="1026.32" y="266.30" font-size="32" textLength="105.81" lengthAdjust="spacingAndGlyphs">Unitary</tspan> <tspan x="1141.57" y="266.30" font-size="32" textLength="81.31" lengthAdjust="spacingAndGlyphs">error:</tspan> <tspan x="1227.80" y="265.80" font-size="32">|</tspan><tspan x="1233.75" y="266.30" font-size="32" textLength="17.64" lengthAdjust="spacingAndGlyphs" font-style="italic" class="l">η</tspan><tspan x="1251.73" y="255.10" font-size="22" textLength="48.66" lengthAdjust="spacingAndGlyphs" class="l">Pauli</tspan><tspan x="1304.40" y="269.53" font-size="32" textLength="19.25" lengthAdjust="spacingAndGlyphs">−</tspan><tspan x="1324.22" y="266.30" font-size="32" textLength="13.34" lengthAdjust="spacingAndGlyphs" font-style="italic" class="l">δ</tspan><tspan x="1338.90" y="255.10" font-size="22" textLength="50.50" lengthAdjust="spacingAndGlyphs" class="l">Pauli</tspan><tspan x="1391.80" y="265.80" font-size="32">|</tspan></text>
<text><tspan x="1025.72" y="325.50" font-size="32" textLength="154.50" lengthAdjust="spacingAndGlyphs">Amplitude</tspan> <tspan x="1187.13" y="325.50" font-size="32" textLength="136.72" lengthAdjust="spacingAndGlyphs">damping:</tspan> <tspan x="1329.75" y="325.50" font-size="32" textLength="17.64" lengthAdjust="spacingAndGlyphs" font-style="italic" class="l">η</tspan><tspan x="1347.32" y="314.30" font-size="22" textLength="49.07" lengthAdjust="spacingAndGlyphs" class="l">Pauli</tspan><tspan x="1399.40" y="328.32" font-size="32" textLength="19.25" lengthAdjust="spacingAndGlyphs">+</tspan><tspan x="1419.22" y="325.50" font-size="32" textLength="13.34" lengthAdjust="spacingAndGlyphs" font-style="italic" class="l">δ</tspan><tspan x="1434.31" y="314.30" font-size="22" textLength="50.09" lengthAdjust="spacingAndGlyphs" class="l">Pauli</tspan></text>
<text><tspan x="1025.72" y="380.80" font-size="32" textLength="154.50" lengthAdjust="spacingAndGlyphs">Amplitude</tspan> <tspan x="1187.13" y="380.80" font-size="32" textLength="136.72" lengthAdjust="spacingAndGlyphs">damping:</tspan> <tspan x="1329.75" y="380.80" font-size="32" textLength="17.64" lengthAdjust="spacingAndGlyphs" font-style="italic" class="l">η</tspan></text>
<text><tspan x="1025.72" y="440.20" font-size="32" textLength="154.50" lengthAdjust="spacingAndGlyphs">Amplitude</tspan> <tspan x="1187.13" y="440.20" font-size="32" textLength="136.72" lengthAdjust="spacingAndGlyphs">damping:</tspan> <tspan x="1330.80" y="439.70" font-size="32">|</tspan><tspan x="1336.75" y="440.20" font-size="32" textLength="17.64" lengthAdjust="spacingAndGlyphs" font-style="italic" class="l">η</tspan><tspan x="1354.32" y="429.00" font-size="22" textLength="49.07" lengthAdjust="spacingAndGlyphs" class="l">Pauli</tspan><tspan x="1407.40" y="443.43" font-size="32" textLength="19.25" lengthAdjust="spacingAndGlyphs">−</tspan><tspan x="1427.28" y="440.20" font-size="32" textLength="12.31" lengthAdjust="spacingAndGlyphs" font-style="italic" class="l">δ</tspan><tspan x="1441.31" y="429.00" font-size="22" textLength="50.09" lengthAdjust="spacingAndGlyphs" class="l">Pauli</tspan><tspan x="1493.80" y="439.70" font-size="32">|</tspan></text>
<text><tspan x="1025.03" y="499.00" font-size="32" textLength="111.28" lengthAdjust="spacingAndGlyphs">General</tspan> <tspan x="1145.73" y="499.00" font-size="32" textLength="78.58" lengthAdjust="spacingAndGlyphs">lower</tspan> <tspan x="1234.00" y="499.00" font-size="32" textLength="99.83" lengthAdjust="spacingAndGlyphs">bound:</tspan> <tspan x="1338.75" y="499.00" font-size="32" textLength="17.64" lengthAdjust="spacingAndGlyphs" font-style="italic" class="l">η</tspan><tspan x="1357.32" y="487.80" font-size="22" textLength="49.07" lengthAdjust="spacingAndGlyphs" class="l">Pauli</tspan></text>
</svg></body></html>
